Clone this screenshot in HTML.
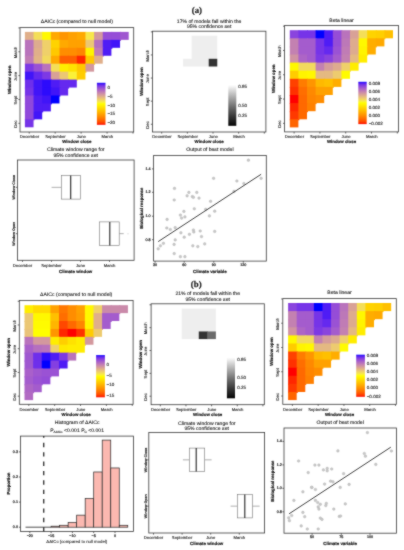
<!DOCTYPE html>
<html><head><meta charset="utf-8"><title>Figure</title>
<style>html,body{margin:0;padding:0;background:#fff;overflow:hidden;} svg{display:block;}</style></head>
<body><svg width="404" height="550" viewBox="0 0 404 550" font-family="Liberation Sans, Arial, sans-serif" text-rendering="geometricPrecision">
<rect x="0" y="0" width="404" height="550" fill="#fff"/>
<defs><filter id="soft" x="0" y="0" width="404" height="550" filterUnits="userSpaceOnUse" color-interpolation-filters="sRGB"><feConvolveMatrix order="3" kernelMatrix="1 2 1 2 16 2 1 2 1" divisor="28" edgeMode="duplicate"/></filter></defs>
<g filter="url(#soft)">
<rect x="0" y="0" width="404" height="550" fill="#fff"/>
<text x="196.90" y="10.10" font-size="8.8" text-anchor="middle" dominant-baseline="central" font-weight="bold" fill="#1a1a1a" stroke="#1a1a1a" stroke-width="0.2" font-family="Liberation Serif, serif">(a)</text>
<text x="76.85" y="21.50" font-size="5.1" text-anchor="middle" dominant-baseline="central" fill="#1a1a1a" stroke="#1a1a1a" stroke-width="0.1">&#916;AICc (compared to null model)</text>
<rect x="24.90" y="31.90" width="9.65" height="8.95" fill="#e0af8a"/>
<rect x="33.55" y="31.90" width="9.65" height="8.95" fill="#f4de58"/>
<rect x="42.20" y="31.90" width="9.65" height="8.95" fill="#fff800"/>
<rect x="50.85" y="31.90" width="9.65" height="8.95" fill="#ffa900"/>
<rect x="59.50" y="31.90" width="9.65" height="8.95" fill="#ff9500"/>
<rect x="68.15" y="31.90" width="9.65" height="8.95" fill="#ffa100"/>
<rect x="76.80" y="31.90" width="9.65" height="8.95" fill="#ffa900"/>
<rect x="85.45" y="31.90" width="9.65" height="8.95" fill="#f8e74a"/>
<rect x="94.10" y="31.90" width="9.65" height="8.95" fill="#d3989e"/>
<rect x="102.75" y="31.90" width="9.65" height="8.95" fill="#954dd7"/>
<rect x="111.40" y="31.90" width="9.65" height="8.95" fill="#954dd7"/>
<rect x="120.05" y="31.90" width="8.65" height="7.95" fill="#9f57d0"/>
<rect x="24.90" y="39.85" width="9.65" height="8.95" fill="#b973bc"/>
<rect x="33.55" y="39.85" width="9.65" height="8.95" fill="#ddab8f"/>
<rect x="42.20" y="39.85" width="9.65" height="8.95" fill="#efd06a"/>
<rect x="50.85" y="39.85" width="9.65" height="8.95" fill="#ffd300"/>
<rect x="59.50" y="39.85" width="9.65" height="8.95" fill="#ffa900"/>
<rect x="68.15" y="39.85" width="9.65" height="8.95" fill="#ffa100"/>
<rect x="76.80" y="39.85" width="9.65" height="8.95" fill="#ffa100"/>
<rect x="85.45" y="39.85" width="9.65" height="8.95" fill="#ebc774"/>
<rect x="94.10" y="39.85" width="9.65" height="8.95" fill="#b56fbf"/>
<rect x="102.75" y="39.85" width="9.65" height="8.95" fill="#4f1cf5"/>
<rect x="111.40" y="39.85" width="8.65" height="7.95" fill="#4115f8"/>
<rect x="24.90" y="47.80" width="9.65" height="8.95" fill="#b973bc"/>
<rect x="33.55" y="47.80" width="9.65" height="8.95" fill="#e0af8a"/>
<rect x="42.20" y="47.80" width="9.65" height="8.95" fill="#efd06a"/>
<rect x="50.85" y="47.80" width="9.65" height="8.95" fill="#ffc800"/>
<rect x="59.50" y="47.80" width="9.65" height="8.95" fill="#ff8d00"/>
<rect x="68.15" y="47.80" width="9.65" height="8.95" fill="#ff8d00"/>
<rect x="76.80" y="47.80" width="9.65" height="8.95" fill="#ff8500"/>
<rect x="85.45" y="47.80" width="9.65" height="8.95" fill="#fff400"/>
<rect x="94.10" y="47.80" width="9.65" height="8.95" fill="#c07cb5"/>
<rect x="102.75" y="47.80" width="8.65" height="7.95" fill="#4f1cf5"/>
<rect x="24.90" y="55.75" width="9.65" height="8.95" fill="#c07cb5"/>
<rect x="33.55" y="55.75" width="9.65" height="8.95" fill="#e2b486"/>
<rect x="42.20" y="55.75" width="9.65" height="8.95" fill="#f2d95e"/>
<rect x="50.85" y="55.75" width="9.65" height="8.95" fill="#ffa900"/>
<rect x="59.50" y="55.75" width="9.65" height="8.95" fill="#ff5f00"/>
<rect x="68.15" y="55.75" width="9.65" height="8.95" fill="#ff5f00"/>
<rect x="76.80" y="55.75" width="9.65" height="8.95" fill="#ff2700"/>
<rect x="85.45" y="55.75" width="9.65" height="8.95" fill="#ffc800"/>
<rect x="94.10" y="55.75" width="8.65" height="7.95" fill="#e0af8a"/>
<rect x="24.90" y="63.70" width="9.65" height="8.95" fill="#7d39e5"/>
<rect x="33.55" y="63.70" width="9.65" height="8.95" fill="#9a52d4"/>
<rect x="42.20" y="63.70" width="9.65" height="8.95" fill="#b973bc"/>
<rect x="50.85" y="63.70" width="9.65" height="8.95" fill="#f4de58"/>
<rect x="59.50" y="63.70" width="9.65" height="8.95" fill="#ffed00"/>
<rect x="68.15" y="63.70" width="9.65" height="8.95" fill="#ffe200"/>
<rect x="76.80" y="63.70" width="9.65" height="8.95" fill="#ffc800"/>
<rect x="85.45" y="63.70" width="8.65" height="7.95" fill="#d3989e"/>
<rect x="24.90" y="71.65" width="9.65" height="8.95" fill="#4115f8"/>
<rect x="33.55" y="71.65" width="9.65" height="8.95" fill="#6529ef"/>
<rect x="42.20" y="71.65" width="9.65" height="8.95" fill="#7d39e5"/>
<rect x="50.85" y="71.65" width="9.65" height="8.95" fill="#d8a197"/>
<rect x="59.50" y="71.65" width="9.65" height="8.95" fill="#ebc774"/>
<rect x="68.15" y="71.65" width="9.65" height="8.95" fill="#fbf139"/>
<rect x="76.80" y="71.65" width="8.65" height="7.95" fill="#ffcc00"/>
<rect x="24.90" y="79.60" width="9.65" height="8.95" fill="#6e2feb"/>
<rect x="33.55" y="79.60" width="9.65" height="8.95" fill="#4115f8"/>
<rect x="42.20" y="79.60" width="9.65" height="8.95" fill="#2d0bfc"/>
<rect x="50.85" y="79.60" width="9.65" height="8.95" fill="#4f1cf5"/>
<rect x="59.50" y="79.60" width="9.65" height="8.95" fill="#6529ef"/>
<rect x="68.15" y="79.60" width="8.65" height="7.95" fill="#6529ef"/>
<rect x="24.90" y="87.55" width="9.65" height="8.95" fill="#7634e8"/>
<rect x="33.55" y="87.55" width="9.65" height="8.95" fill="#4115f8"/>
<rect x="42.20" y="87.55" width="9.65" height="8.95" fill="#2d0bfc"/>
<rect x="50.85" y="87.55" width="9.65" height="8.95" fill="#4115f8"/>
<rect x="59.50" y="87.55" width="8.65" height="7.95" fill="#6529ef"/>
<rect x="24.90" y="95.50" width="9.65" height="8.95" fill="#9049db"/>
<rect x="33.55" y="95.50" width="9.65" height="8.95" fill="#4f1cf5"/>
<rect x="42.20" y="95.50" width="9.65" height="8.95" fill="#4115f8"/>
<rect x="50.85" y="95.50" width="8.65" height="7.95" fill="#0000ff"/>
<rect x="24.90" y="103.45" width="9.65" height="8.95" fill="#9049db"/>
<rect x="33.55" y="103.45" width="9.65" height="8.95" fill="#4f1cf5"/>
<rect x="42.20" y="103.45" width="8.65" height="7.95" fill="#4f1cf5"/>
<rect x="24.90" y="111.40" width="9.65" height="8.95" fill="#9049db"/>
<rect x="33.55" y="111.40" width="8.65" height="7.95" fill="#4115f8"/>
<rect x="24.90" y="119.35" width="8.65" height="7.95" fill="#7634e8"/>
<rect x="20.00" y="27.60" width="113.70" height="104.40" fill="none" stroke="#3a3a3a" stroke-width="0.8"/>
<line x1="29.22" y1="132.00" x2="29.22" y2="133.60" stroke="#3a3a3a" stroke-width="0.75"/>
<text x="29.52" y="136.20" font-size="4.2" text-anchor="middle" dominant-baseline="central" fill="#2a2a2a" stroke="#2a2a2a" stroke-width="0.12">December</text>
<line x1="55.17" y1="132.00" x2="55.17" y2="133.60" stroke="#3a3a3a" stroke-width="0.75"/>
<text x="55.47" y="136.20" font-size="4.2" text-anchor="middle" dominant-baseline="central" fill="#2a2a2a" stroke="#2a2a2a" stroke-width="0.12">September</text>
<line x1="81.12" y1="132.00" x2="81.12" y2="133.60" stroke="#3a3a3a" stroke-width="0.75"/>
<text x="81.42" y="136.20" font-size="4.2" text-anchor="middle" dominant-baseline="central" fill="#2a2a2a" stroke="#2a2a2a" stroke-width="0.12">June</text>
<line x1="107.07" y1="132.00" x2="107.07" y2="133.60" stroke="#3a3a3a" stroke-width="0.75"/>
<text x="107.37" y="136.20" font-size="4.2" text-anchor="middle" dominant-baseline="central" fill="#2a2a2a" stroke="#2a2a2a" stroke-width="0.12">March</text>
<line x1="133.03" y1="132.00" x2="133.03" y2="133.60" stroke="#3a3a3a" stroke-width="0.75"/>
<line x1="18.40" y1="123.32" x2="20.00" y2="123.32" stroke="#3a3a3a" stroke-width="0.75"/>
<text x="15.40" y="124.02" font-size="4.2" text-anchor="middle" dominant-baseline="central" fill="#2a2a2a" stroke="#2a2a2a" stroke-width="0.12" transform="rotate(-90 15.40 124.02)">Dec</text>
<line x1="18.40" y1="99.47" x2="20.00" y2="99.47" stroke="#3a3a3a" stroke-width="0.75"/>
<text x="15.40" y="100.17" font-size="4.2" text-anchor="middle" dominant-baseline="central" fill="#2a2a2a" stroke="#2a2a2a" stroke-width="0.12" transform="rotate(-90 15.40 100.17)">Sept</text>
<line x1="18.40" y1="75.62" x2="20.00" y2="75.62" stroke="#3a3a3a" stroke-width="0.75"/>
<text x="15.40" y="76.33" font-size="4.2" text-anchor="middle" dominant-baseline="central" fill="#2a2a2a" stroke="#2a2a2a" stroke-width="0.12" transform="rotate(-90 15.40 76.33)">June</text>
<line x1="18.40" y1="51.77" x2="20.00" y2="51.77" stroke="#3a3a3a" stroke-width="0.75"/>
<text x="15.40" y="52.48" font-size="4.2" text-anchor="middle" dominant-baseline="central" fill="#2a2a2a" stroke="#2a2a2a" stroke-width="0.12" transform="rotate(-90 15.40 52.48)">March</text>
<line x1="18.40" y1="27.92" x2="20.00" y2="27.92" stroke="#3a3a3a" stroke-width="0.75"/>
<text x="9.50" y="79.80" font-size="4.4" text-anchor="middle" dominant-baseline="central" font-weight="bold" fill="#1a1a1a" stroke="#1a1a1a" stroke-width="0.2" transform="rotate(-90 9.50 79.80)">Window open</text>
<text x="76.85" y="141.80" font-size="4.4" text-anchor="middle" dominant-baseline="central" font-weight="bold" fill="#1a1a1a" stroke="#1a1a1a" stroke-width="0.2">Window close</text>
<defs><linearGradient id="g1" x1="0" y1="0" x2="0" y2="1"><stop offset="0.000" stop-color="#0000ff"/><stop offset="0.025" stop-color="#4819f7"/><stop offset="0.050" stop-color="#6529ef"/><stop offset="0.075" stop-color="#7937e6"/><stop offset="0.100" stop-color="#8a44de"/><stop offset="0.125" stop-color="#9850d5"/><stop offset="0.150" stop-color="#a45ccd"/><stop offset="0.175" stop-color="#af68c4"/><stop offset="0.200" stop-color="#b973bc"/><stop offset="0.225" stop-color="#c27fb3"/><stop offset="0.250" stop-color="#ca8aaa"/><stop offset="0.275" stop-color="#d196a0"/><stop offset="0.300" stop-color="#d8a197"/><stop offset="0.325" stop-color="#dead8c"/><stop offset="0.350" stop-color="#e4b982"/><stop offset="0.375" stop-color="#eac476"/><stop offset="0.400" stop-color="#efd06a"/><stop offset="0.425" stop-color="#f3dc5b"/><stop offset="0.450" stop-color="#f8e74a"/><stop offset="0.475" stop-color="#fbf334"/><stop offset="0.500" stop-color="#ffff00"/><stop offset="0.525" stop-color="#fff600"/><stop offset="0.550" stop-color="#ffed00"/><stop offset="0.575" stop-color="#ffe400"/><stop offset="0.600" stop-color="#ffdb00"/><stop offset="0.625" stop-color="#ffd100"/><stop offset="0.650" stop-color="#ffc800"/><stop offset="0.675" stop-color="#ffbf00"/><stop offset="0.700" stop-color="#ffb500"/><stop offset="0.725" stop-color="#ffab00"/><stop offset="0.750" stop-color="#ffa100"/><stop offset="0.775" stop-color="#ff9700"/><stop offset="0.800" stop-color="#ff8d00"/><stop offset="0.825" stop-color="#ff8200"/><stop offset="0.850" stop-color="#ff7700"/><stop offset="0.875" stop-color="#ff6c00"/><stop offset="0.900" stop-color="#ff5f00"/><stop offset="0.925" stop-color="#ff5100"/><stop offset="0.950" stop-color="#ff4100"/><stop offset="0.975" stop-color="#ff2c00"/><stop offset="1.000" stop-color="#ff0000"/></linearGradient></defs>
<rect x="96.90" y="82.80" width="8.60" height="42.00" fill="url(#g1)"/>
<text x="107.40" y="87.10" font-size="4.55" text-anchor="start" dominant-baseline="central" fill="#2a2a2a" stroke="#2a2a2a" stroke-width="0.12">0</text>
<text x="107.40" y="96.30" font-size="4.55" text-anchor="start" dominant-baseline="central" fill="#2a2a2a" stroke="#2a2a2a" stroke-width="0.12">&#8722;5</text>
<text x="107.40" y="105.00" font-size="4.55" text-anchor="start" dominant-baseline="central" fill="#2a2a2a" stroke="#2a2a2a" stroke-width="0.12">&#8722;10</text>
<text x="107.40" y="113.70" font-size="4.55" text-anchor="start" dominant-baseline="central" fill="#2a2a2a" stroke="#2a2a2a" stroke-width="0.12">&#8722;15</text>
<text x="107.40" y="122.40" font-size="4.55" text-anchor="start" dominant-baseline="central" fill="#2a2a2a" stroke="#2a2a2a" stroke-width="0.12">&#8722;20</text>
<text x="209.15" y="21.90" font-size="5.1" text-anchor="middle" dominant-baseline="central" fill="#1a1a1a" stroke="#1a1a1a" stroke-width="0.1">17% of models fall within the</text>
<text x="209.15" y="27.20" font-size="5.1" text-anchor="middle" dominant-baseline="central" fill="#1a1a1a" stroke="#1a1a1a" stroke-width="0.1">95% confidence set</text>
<rect x="191.62" y="35.70" width="25.65" height="23.60" fill="#eeeeee"/>
<rect x="183.07" y="58.80" width="26.15" height="7.70" fill="#eeeeee"/>
<rect x="208.72" y="58.80" width="8.55" height="7.70" fill="#333333"/>
<rect x="152.40" y="31.20" width="113.50" height="100.80" fill="none" stroke="#3a3a3a" stroke-width="0.8"/>
<line x1="161.70" y1="132.00" x2="161.70" y2="133.60" stroke="#3a3a3a" stroke-width="0.75"/>
<text x="162.00" y="136.20" font-size="4.2" text-anchor="middle" dominant-baseline="central" fill="#2a2a2a" stroke="#2a2a2a" stroke-width="0.12">December</text>
<line x1="187.35" y1="132.00" x2="187.35" y2="133.60" stroke="#3a3a3a" stroke-width="0.75"/>
<text x="187.65" y="136.20" font-size="4.2" text-anchor="middle" dominant-baseline="central" fill="#2a2a2a" stroke="#2a2a2a" stroke-width="0.12">September</text>
<line x1="213.00" y1="132.00" x2="213.00" y2="133.60" stroke="#3a3a3a" stroke-width="0.75"/>
<text x="213.30" y="136.20" font-size="4.2" text-anchor="middle" dominant-baseline="central" fill="#2a2a2a" stroke="#2a2a2a" stroke-width="0.12">June</text>
<line x1="238.65" y1="132.00" x2="238.65" y2="133.60" stroke="#3a3a3a" stroke-width="0.75"/>
<text x="238.95" y="136.20" font-size="4.2" text-anchor="middle" dominant-baseline="central" fill="#2a2a2a" stroke="#2a2a2a" stroke-width="0.12">March</text>
<line x1="264.30" y1="132.00" x2="264.30" y2="133.60" stroke="#3a3a3a" stroke-width="0.75"/>
<line x1="150.80" y1="124.25" x2="152.40" y2="124.25" stroke="#3a3a3a" stroke-width="0.75"/>
<text x="147.30" y="124.95" font-size="4.2" text-anchor="middle" dominant-baseline="central" fill="#2a2a2a" stroke="#2a2a2a" stroke-width="0.12" transform="rotate(-90 147.30 124.95)">Dec</text>
<line x1="150.80" y1="101.15" x2="152.40" y2="101.15" stroke="#3a3a3a" stroke-width="0.75"/>
<text x="147.30" y="101.85" font-size="4.2" text-anchor="middle" dominant-baseline="central" fill="#2a2a2a" stroke="#2a2a2a" stroke-width="0.12" transform="rotate(-90 147.30 101.85)">Sept</text>
<line x1="150.80" y1="78.05" x2="152.40" y2="78.05" stroke="#3a3a3a" stroke-width="0.75"/>
<text x="147.30" y="78.75" font-size="4.2" text-anchor="middle" dominant-baseline="central" fill="#2a2a2a" stroke="#2a2a2a" stroke-width="0.12" transform="rotate(-90 147.30 78.75)">June</text>
<line x1="150.80" y1="54.95" x2="152.40" y2="54.95" stroke="#3a3a3a" stroke-width="0.75"/>
<text x="147.30" y="55.65" font-size="4.2" text-anchor="middle" dominant-baseline="central" fill="#2a2a2a" stroke="#2a2a2a" stroke-width="0.12" transform="rotate(-90 147.30 55.65)">March</text>
<line x1="150.80" y1="31.85" x2="152.40" y2="31.85" stroke="#3a3a3a" stroke-width="0.75"/>
<text x="141.20" y="81.60" font-size="4.4" text-anchor="middle" dominant-baseline="central" font-weight="bold" fill="#1a1a1a" stroke="#1a1a1a" stroke-width="0.2" transform="rotate(-90 141.20 81.60)">Window open</text>
<text x="209.15" y="141.80" font-size="4.4" text-anchor="middle" dominant-baseline="central" font-weight="bold" fill="#1a1a1a" stroke="#1a1a1a" stroke-width="0.2">Window close</text>
<defs><linearGradient id="g2" x1="0" y1="0" x2="0" y2="1"><stop offset="0.000" stop-color="#ffffff"/><stop offset="0.050" stop-color="#f1f1f1"/><stop offset="0.100" stop-color="#e2e2e2"/><stop offset="0.150" stop-color="#d4d4d4"/><stop offset="0.200" stop-color="#c6c6c6"/><stop offset="0.250" stop-color="#b9b9b9"/><stop offset="0.300" stop-color="#ababab"/><stop offset="0.350" stop-color="#9e9e9e"/><stop offset="0.400" stop-color="#919191"/><stop offset="0.450" stop-color="#848484"/><stop offset="0.500" stop-color="#777777"/><stop offset="0.550" stop-color="#6a6a6a"/><stop offset="0.600" stop-color="#5e5e5e"/><stop offset="0.650" stop-color="#525252"/><stop offset="0.700" stop-color="#474747"/><stop offset="0.750" stop-color="#3b3b3b"/><stop offset="0.800" stop-color="#303030"/><stop offset="0.850" stop-color="#262626"/><stop offset="0.900" stop-color="#1b1b1b"/><stop offset="0.950" stop-color="#111111"/><stop offset="1.000" stop-color="#000000"/></linearGradient></defs>
<rect x="228.30" y="85.00" width="8.00" height="40.80" fill="url(#g2)"/>
<text x="238.30" y="86.80" font-size="4.55" text-anchor="start" dominant-baseline="central" fill="#2a2a2a" stroke="#2a2a2a" stroke-width="0.12">0.95</text>
<text x="238.30" y="105.10" font-size="4.55" text-anchor="start" dominant-baseline="central" fill="#2a2a2a" stroke="#2a2a2a" stroke-width="0.12">0.50</text>
<text x="238.30" y="115.00" font-size="4.55" text-anchor="start" dominant-baseline="central" fill="#2a2a2a" stroke="#2a2a2a" stroke-width="0.12">0.25</text>
<text x="341.50" y="21.30" font-size="5.1" text-anchor="middle" dominant-baseline="central" fill="#1a1a1a" stroke="#1a1a1a" stroke-width="0.1">Beta linear</text>
<rect x="289.80" y="30.20" width="9.60" height="9.10" fill="#8a44de"/>
<rect x="298.40" y="30.20" width="9.60" height="9.10" fill="#7634e8"/>
<rect x="307.00" y="30.20" width="9.60" height="9.10" fill="#7634e8"/>
<rect x="315.60" y="30.20" width="9.60" height="9.10" fill="#0000ff"/>
<rect x="324.20" y="30.20" width="9.60" height="9.10" fill="#4f1cf5"/>
<rect x="332.80" y="30.20" width="9.60" height="9.10" fill="#954dd7"/>
<rect x="341.40" y="30.20" width="9.60" height="9.10" fill="#b973bc"/>
<rect x="350.00" y="30.20" width="9.60" height="9.10" fill="#d8a197"/>
<rect x="358.60" y="30.20" width="9.60" height="9.10" fill="#f4de58"/>
<rect x="367.20" y="30.20" width="9.60" height="9.10" fill="#ffd300"/>
<rect x="375.80" y="30.20" width="9.60" height="9.10" fill="#ffcf00"/>
<rect x="384.40" y="30.20" width="8.60" height="8.10" fill="#ffc000"/>
<rect x="289.80" y="38.30" width="9.60" height="9.10" fill="#c381b1"/>
<rect x="298.40" y="38.30" width="9.60" height="9.10" fill="#a45ccd"/>
<rect x="307.00" y="38.30" width="9.60" height="9.10" fill="#a45ccd"/>
<rect x="315.60" y="38.30" width="9.60" height="9.10" fill="#7634e8"/>
<rect x="324.20" y="38.30" width="9.60" height="9.10" fill="#4f1cf5"/>
<rect x="332.80" y="38.30" width="9.60" height="9.10" fill="#954dd7"/>
<rect x="341.40" y="38.30" width="9.60" height="9.10" fill="#bc78b8"/>
<rect x="350.00" y="38.30" width="9.60" height="9.10" fill="#ddab8f"/>
<rect x="358.60" y="38.30" width="9.60" height="9.10" fill="#fff800"/>
<rect x="367.20" y="38.30" width="9.60" height="9.10" fill="#ffad00"/>
<rect x="375.80" y="38.30" width="8.60" height="8.10" fill="#ffa900"/>
<rect x="289.80" y="46.40" width="9.60" height="9.10" fill="#c381b1"/>
<rect x="298.40" y="46.40" width="9.60" height="9.10" fill="#a45ccd"/>
<rect x="307.00" y="46.40" width="9.60" height="9.10" fill="#a45ccd"/>
<rect x="315.60" y="46.40" width="9.60" height="9.10" fill="#7634e8"/>
<rect x="324.20" y="46.40" width="9.60" height="9.10" fill="#6529ef"/>
<rect x="332.80" y="46.40" width="9.60" height="9.10" fill="#9a52d4"/>
<rect x="341.40" y="46.40" width="9.60" height="9.10" fill="#c07cb5"/>
<rect x="350.00" y="46.40" width="9.60" height="9.10" fill="#ddab8f"/>
<rect x="358.60" y="46.40" width="9.60" height="9.10" fill="#fff400"/>
<rect x="367.20" y="46.40" width="8.60" height="8.10" fill="#ffad00"/>
<rect x="289.80" y="54.50" width="9.60" height="9.10" fill="#d094a2"/>
<rect x="298.40" y="54.50" width="9.60" height="9.10" fill="#ad65c6"/>
<rect x="307.00" y="54.50" width="9.60" height="9.10" fill="#a45ccd"/>
<rect x="315.60" y="54.50" width="9.60" height="9.10" fill="#7d39e5"/>
<rect x="324.20" y="54.50" width="9.60" height="9.10" fill="#8a44de"/>
<rect x="332.80" y="54.50" width="9.60" height="9.10" fill="#a45ccd"/>
<rect x="341.40" y="54.50" width="9.60" height="9.10" fill="#c381b1"/>
<rect x="350.00" y="54.50" width="9.60" height="9.10" fill="#e4b982"/>
<rect x="358.60" y="54.50" width="8.60" height="8.10" fill="#ffed00"/>
<rect x="289.80" y="62.60" width="9.60" height="9.10" fill="#fff800"/>
<rect x="298.40" y="62.60" width="9.60" height="9.10" fill="#f2d95e"/>
<rect x="307.00" y="62.60" width="9.60" height="9.10" fill="#f2d95e"/>
<rect x="315.60" y="62.60" width="9.60" height="9.10" fill="#c381b1"/>
<rect x="324.20" y="62.60" width="9.60" height="9.10" fill="#d59d9b"/>
<rect x="332.80" y="62.60" width="9.60" height="9.10" fill="#ddab8f"/>
<rect x="341.40" y="62.60" width="9.60" height="9.10" fill="#efd06a"/>
<rect x="350.00" y="62.60" width="8.60" height="8.10" fill="#ffed00"/>
<rect x="289.80" y="70.70" width="9.60" height="9.10" fill="#ffcc00"/>
<rect x="298.40" y="70.70" width="9.60" height="9.10" fill="#fff400"/>
<rect x="307.00" y="70.70" width="9.60" height="9.10" fill="#fff800"/>
<rect x="315.60" y="70.70" width="9.60" height="9.10" fill="#e4b982"/>
<rect x="324.20" y="70.70" width="9.60" height="9.10" fill="#e4b982"/>
<rect x="332.80" y="70.70" width="9.60" height="9.10" fill="#edcb6f"/>
<rect x="341.40" y="70.70" width="8.60" height="8.10" fill="#fffb00"/>
<rect x="289.80" y="78.80" width="9.60" height="9.10" fill="#ff4100"/>
<rect x="298.40" y="78.80" width="9.60" height="9.10" fill="#ff7c00"/>
<rect x="307.00" y="78.80" width="9.60" height="9.10" fill="#ff9500"/>
<rect x="315.60" y="78.80" width="9.60" height="9.10" fill="#ffb900"/>
<rect x="324.20" y="78.80" width="9.60" height="9.10" fill="#ffc000"/>
<rect x="332.80" y="78.80" width="8.60" height="8.10" fill="#ffad00"/>
<rect x="289.80" y="86.90" width="9.60" height="9.10" fill="#ff3100"/>
<rect x="298.40" y="86.90" width="9.60" height="9.10" fill="#ff6e00"/>
<rect x="307.00" y="86.90" width="9.60" height="9.10" fill="#ff8900"/>
<rect x="315.60" y="86.90" width="9.60" height="9.10" fill="#ffa100"/>
<rect x="324.20" y="86.90" width="8.60" height="8.10" fill="#ffa100"/>
<rect x="289.80" y="95.00" width="9.60" height="9.10" fill="#ff0000"/>
<rect x="298.40" y="95.00" width="9.60" height="9.10" fill="#ff6900"/>
<rect x="307.00" y="95.00" width="9.60" height="9.10" fill="#ff8500"/>
<rect x="315.60" y="95.00" width="8.60" height="8.10" fill="#ff8d00"/>
<rect x="289.80" y="103.10" width="9.60" height="9.10" fill="#ff2700"/>
<rect x="298.40" y="103.10" width="9.60" height="9.10" fill="#ff6900"/>
<rect x="307.00" y="103.10" width="8.60" height="8.10" fill="#ff8000"/>
<rect x="289.80" y="111.20" width="9.60" height="9.10" fill="#ff3900"/>
<rect x="298.40" y="111.20" width="8.60" height="8.10" fill="#ff6900"/>
<rect x="289.80" y="119.30" width="8.60" height="8.10" fill="#ff6400"/>
<rect x="284.60" y="25.50" width="113.80" height="106.40" fill="none" stroke="#3a3a3a" stroke-width="0.8"/>
<line x1="294.10" y1="131.90" x2="294.10" y2="133.50" stroke="#3a3a3a" stroke-width="0.75"/>
<text x="294.40" y="136.20" font-size="4.2" text-anchor="middle" dominant-baseline="central" fill="#2a2a2a" stroke="#2a2a2a" stroke-width="0.12">December</text>
<line x1="319.90" y1="131.90" x2="319.90" y2="133.50" stroke="#3a3a3a" stroke-width="0.75"/>
<text x="320.20" y="136.20" font-size="4.2" text-anchor="middle" dominant-baseline="central" fill="#2a2a2a" stroke="#2a2a2a" stroke-width="0.12">September</text>
<line x1="345.70" y1="131.90" x2="345.70" y2="133.50" stroke="#3a3a3a" stroke-width="0.75"/>
<text x="346.00" y="136.20" font-size="4.2" text-anchor="middle" dominant-baseline="central" fill="#2a2a2a" stroke="#2a2a2a" stroke-width="0.12">June</text>
<line x1="371.50" y1="131.90" x2="371.50" y2="133.50" stroke="#3a3a3a" stroke-width="0.75"/>
<text x="371.80" y="136.20" font-size="4.2" text-anchor="middle" dominant-baseline="central" fill="#2a2a2a" stroke="#2a2a2a" stroke-width="0.12">March</text>
<line x1="397.30" y1="131.90" x2="397.30" y2="133.50" stroke="#3a3a3a" stroke-width="0.75"/>
<line x1="283.00" y1="123.35" x2="284.60" y2="123.35" stroke="#3a3a3a" stroke-width="0.75"/>
<text x="279.70" y="124.05" font-size="4.2" text-anchor="middle" dominant-baseline="central" fill="#2a2a2a" stroke="#2a2a2a" stroke-width="0.12" transform="rotate(-90 279.70 124.05)">Dec</text>
<line x1="283.00" y1="99.05" x2="284.60" y2="99.05" stroke="#3a3a3a" stroke-width="0.75"/>
<text x="279.70" y="99.75" font-size="4.2" text-anchor="middle" dominant-baseline="central" fill="#2a2a2a" stroke="#2a2a2a" stroke-width="0.12" transform="rotate(-90 279.70 99.75)">Sept</text>
<line x1="283.00" y1="74.75" x2="284.60" y2="74.75" stroke="#3a3a3a" stroke-width="0.75"/>
<text x="279.70" y="75.45" font-size="4.2" text-anchor="middle" dominant-baseline="central" fill="#2a2a2a" stroke="#2a2a2a" stroke-width="0.12" transform="rotate(-90 279.70 75.45)">June</text>
<line x1="283.00" y1="50.45" x2="284.60" y2="50.45" stroke="#3a3a3a" stroke-width="0.75"/>
<text x="279.70" y="51.15" font-size="4.2" text-anchor="middle" dominant-baseline="central" fill="#2a2a2a" stroke="#2a2a2a" stroke-width="0.12" transform="rotate(-90 279.70 51.15)">March</text>
<line x1="283.00" y1="26.15" x2="284.60" y2="26.15" stroke="#3a3a3a" stroke-width="0.75"/>
<text x="273.60" y="78.70" font-size="4.4" text-anchor="middle" dominant-baseline="central" font-weight="bold" fill="#1a1a1a" stroke="#1a1a1a" stroke-width="0.2" transform="rotate(-90 273.60 78.70)">Window open</text>
<text x="341.50" y="141.80" font-size="4.4" text-anchor="middle" dominant-baseline="central" font-weight="bold" fill="#1a1a1a" stroke="#1a1a1a" stroke-width="0.2">Window close</text>
<defs><linearGradient id="g3" x1="0" y1="0" x2="0" y2="1"><stop offset="0.000" stop-color="#0000ff"/><stop offset="0.025" stop-color="#4819f7"/><stop offset="0.050" stop-color="#6529ef"/><stop offset="0.075" stop-color="#7937e6"/><stop offset="0.100" stop-color="#8a44de"/><stop offset="0.125" stop-color="#9850d5"/><stop offset="0.150" stop-color="#a45ccd"/><stop offset="0.175" stop-color="#af68c4"/><stop offset="0.200" stop-color="#b973bc"/><stop offset="0.225" stop-color="#c27fb3"/><stop offset="0.250" stop-color="#ca8aaa"/><stop offset="0.275" stop-color="#d196a0"/><stop offset="0.300" stop-color="#d8a197"/><stop offset="0.325" stop-color="#dead8c"/><stop offset="0.350" stop-color="#e4b982"/><stop offset="0.375" stop-color="#eac476"/><stop offset="0.400" stop-color="#efd06a"/><stop offset="0.425" stop-color="#f3dc5b"/><stop offset="0.450" stop-color="#f8e74a"/><stop offset="0.475" stop-color="#fbf334"/><stop offset="0.500" stop-color="#ffff00"/><stop offset="0.525" stop-color="#fff600"/><stop offset="0.550" stop-color="#ffed00"/><stop offset="0.575" stop-color="#ffe400"/><stop offset="0.600" stop-color="#ffdb00"/><stop offset="0.625" stop-color="#ffd100"/><stop offset="0.650" stop-color="#ffc800"/><stop offset="0.675" stop-color="#ffbf00"/><stop offset="0.700" stop-color="#ffb500"/><stop offset="0.725" stop-color="#ffab00"/><stop offset="0.750" stop-color="#ffa100"/><stop offset="0.775" stop-color="#ff9700"/><stop offset="0.800" stop-color="#ff8d00"/><stop offset="0.825" stop-color="#ff8200"/><stop offset="0.850" stop-color="#ff7700"/><stop offset="0.875" stop-color="#ff6c00"/><stop offset="0.900" stop-color="#ff5f00"/><stop offset="0.925" stop-color="#ff5100"/><stop offset="0.950" stop-color="#ff4100"/><stop offset="0.975" stop-color="#ff2c00"/><stop offset="1.000" stop-color="#ff0000"/></linearGradient></defs>
<rect x="358.30" y="81.80" width="8.40" height="42.30" fill="url(#g3)"/>
<text x="368.70" y="83.40" font-size="4.55" text-anchor="start" dominant-baseline="central" fill="#2a2a2a" stroke="#2a2a2a" stroke-width="0.12">0.008</text>
<text x="368.70" y="91.30" font-size="4.55" text-anchor="start" dominant-baseline="central" fill="#2a2a2a" stroke="#2a2a2a" stroke-width="0.12">0.006</text>
<text x="368.70" y="99.20" font-size="4.55" text-anchor="start" dominant-baseline="central" fill="#2a2a2a" stroke="#2a2a2a" stroke-width="0.12">0.004</text>
<text x="368.70" y="107.20" font-size="4.55" text-anchor="start" dominant-baseline="central" fill="#2a2a2a" stroke="#2a2a2a" stroke-width="0.12">0.002</text>
<text x="368.70" y="115.20" font-size="4.55" text-anchor="start" dominant-baseline="central" fill="#2a2a2a" stroke="#2a2a2a" stroke-width="0.12">0.000</text>
<text x="368.70" y="123.10" font-size="4.55" text-anchor="start" dominant-baseline="central" fill="#2a2a2a" stroke="#2a2a2a" stroke-width="0.12">&#8722;0.002</text>
<text x="75.70" y="150.30" font-size="5.1" text-anchor="middle" dominant-baseline="central" fill="#1a1a1a" stroke="#1a1a1a" stroke-width="0.1">Climate window range for</text>
<text x="75.70" y="155.80" font-size="5.1" text-anchor="middle" dominant-baseline="central" fill="#1a1a1a" stroke="#1a1a1a" stroke-width="0.1">95% confidence set</text>
<rect x="17.40" y="160.00" width="116.70" height="100.30" fill="none" stroke="#3a3a3a" stroke-width="0.8"/>
<line x1="51.60" y1="187.35" x2="61.30" y2="187.35" stroke="#777" stroke-width="0.6"/>
<rect x="61.30" y="175.60" width="19.00" height="23.50" fill="#fff" stroke="#777" stroke-width="0.6"/>
<line x1="70.70" y1="175.60" x2="70.70" y2="199.10" stroke="#222" stroke-width="1.1"/>
<line x1="119.20" y1="233.65" x2="123.70" y2="233.65" stroke="#777" stroke-width="0.6"/>
<rect x="99.40" y="221.90" width="19.80" height="23.50" fill="#fff" stroke="#777" stroke-width="0.6"/>
<line x1="109.80" y1="221.90" x2="109.80" y2="245.40" stroke="#222" stroke-width="1.1"/>
<circle cx="128.0" cy="233.7" r="0.5" fill="#bbb"/>
<line x1="22.50" y1="260.30" x2="22.50" y2="261.90" stroke="#3a3a3a" stroke-width="0.75"/>
<text x="22.50" y="265.60" font-size="4.2" text-anchor="middle" dominant-baseline="central" fill="#2a2a2a" stroke="#2a2a2a" stroke-width="0.12">December</text>
<line x1="51.50" y1="260.30" x2="51.50" y2="261.90" stroke="#3a3a3a" stroke-width="0.75"/>
<text x="51.50" y="265.60" font-size="4.2" text-anchor="middle" dominant-baseline="central" fill="#2a2a2a" stroke="#2a2a2a" stroke-width="0.12">September</text>
<line x1="80.50" y1="260.30" x2="80.50" y2="261.90" stroke="#3a3a3a" stroke-width="0.75"/>
<text x="80.50" y="265.60" font-size="4.2" text-anchor="middle" dominant-baseline="central" fill="#2a2a2a" stroke="#2a2a2a" stroke-width="0.12">June</text>
<line x1="109.50" y1="260.30" x2="109.50" y2="261.90" stroke="#3a3a3a" stroke-width="0.75"/>
<text x="109.50" y="265.60" font-size="4.2" text-anchor="middle" dominant-baseline="central" fill="#2a2a2a" stroke="#2a2a2a" stroke-width="0.12">March</text>
<line x1="15.80" y1="187.30" x2="17.40" y2="187.30" stroke="#3a3a3a" stroke-width="0.75"/>
<text x="14.30" y="187.30" font-size="3.6" text-anchor="middle" dominant-baseline="central" font-weight="bold" fill="#2a2a2a" stroke="#2a2a2a" stroke-width="0.2" transform="rotate(-90 14.30 187.30)">Window Close</text>
<line x1="15.80" y1="233.70" x2="17.40" y2="233.70" stroke="#3a3a3a" stroke-width="0.75"/>
<text x="14.30" y="233.70" font-size="3.6" text-anchor="middle" dominant-baseline="central" font-weight="bold" fill="#2a2a2a" stroke="#2a2a2a" stroke-width="0.2" transform="rotate(-90 14.30 233.70)">Window Open</text>
<text x="75.70" y="271.50" font-size="4.4" text-anchor="middle" dominant-baseline="central" font-weight="bold" fill="#1a1a1a" stroke="#1a1a1a" stroke-width="0.2">Climate window</text>
<text x="209.95" y="149.90" font-size="5.1" text-anchor="middle" dominant-baseline="central" fill="#1a1a1a" stroke="#1a1a1a" stroke-width="0.1">Output of best model</text>
<rect x="153.60" y="155.40" width="112.70" height="105.70" fill="none" stroke="#3a3a3a" stroke-width="0.8"/>
<circle cx="174.5" cy="188.4" r="1.35" fill="#c8c8c8" stroke="#b0b0b0" stroke-width="0.35"/>
<circle cx="174.2" cy="200.0" r="1.35" fill="#c8c8c8" stroke="#b0b0b0" stroke-width="0.35"/>
<circle cx="188.9" cy="192.4" r="1.35" fill="#c8c8c8" stroke="#b0b0b0" stroke-width="0.35"/>
<circle cx="187.1" cy="195.8" r="1.35" fill="#c8c8c8" stroke="#b0b0b0" stroke-width="0.35"/>
<circle cx="192.3" cy="196.6" r="1.35" fill="#c8c8c8" stroke="#b0b0b0" stroke-width="0.35"/>
<circle cx="193.4" cy="197.3" r="1.35" fill="#c8c8c8" stroke="#b0b0b0" stroke-width="0.35"/>
<circle cx="196.8" cy="192.4" r="1.35" fill="#c8c8c8" stroke="#b0b0b0" stroke-width="0.35"/>
<circle cx="199.0" cy="198.1" r="1.35" fill="#c8c8c8" stroke="#b0b0b0" stroke-width="0.35"/>
<circle cx="194.3" cy="208.8" r="1.35" fill="#c8c8c8" stroke="#b0b0b0" stroke-width="0.35"/>
<circle cx="183.9" cy="211.4" r="1.35" fill="#c8c8c8" stroke="#b0b0b0" stroke-width="0.35"/>
<circle cx="180.4" cy="215.1" r="1.35" fill="#c8c8c8" stroke="#b0b0b0" stroke-width="0.35"/>
<circle cx="181.6" cy="218.1" r="1.35" fill="#c8c8c8" stroke="#b0b0b0" stroke-width="0.35"/>
<circle cx="184.9" cy="216.9" r="1.35" fill="#c8c8c8" stroke="#b0b0b0" stroke-width="0.35"/>
<circle cx="167.1" cy="219.4" r="1.35" fill="#c8c8c8" stroke="#b0b0b0" stroke-width="0.35"/>
<circle cx="166.8" cy="228.0" r="1.35" fill="#c8c8c8" stroke="#b0b0b0" stroke-width="0.35"/>
<circle cx="170.3" cy="229.5" r="1.35" fill="#c8c8c8" stroke="#b0b0b0" stroke-width="0.35"/>
<circle cx="175.2" cy="227.7" r="1.35" fill="#c8c8c8" stroke="#b0b0b0" stroke-width="0.35"/>
<circle cx="180.9" cy="232.8" r="1.35" fill="#c8c8c8" stroke="#b0b0b0" stroke-width="0.35"/>
<circle cx="184.2" cy="237.2" r="1.35" fill="#c8c8c8" stroke="#b0b0b0" stroke-width="0.35"/>
<circle cx="189.4" cy="234.3" r="1.35" fill="#c8c8c8" stroke="#b0b0b0" stroke-width="0.35"/>
<circle cx="193.4" cy="230.0" r="1.35" fill="#c8c8c8" stroke="#b0b0b0" stroke-width="0.35"/>
<circle cx="193.8" cy="232.0" r="1.35" fill="#c8c8c8" stroke="#b0b0b0" stroke-width="0.35"/>
<circle cx="200.2" cy="231.0" r="1.35" fill="#c8c8c8" stroke="#b0b0b0" stroke-width="0.35"/>
<circle cx="201.5" cy="236.6" r="1.35" fill="#c8c8c8" stroke="#b0b0b0" stroke-width="0.35"/>
<circle cx="175.2" cy="239.9" r="1.35" fill="#c8c8c8" stroke="#b0b0b0" stroke-width="0.35"/>
<circle cx="174.1" cy="244.4" r="1.35" fill="#c8c8c8" stroke="#b0b0b0" stroke-width="0.35"/>
<circle cx="163.4" cy="243.3" r="1.35" fill="#c8c8c8" stroke="#b0b0b0" stroke-width="0.35"/>
<circle cx="160.4" cy="245.8" r="1.35" fill="#c8c8c8" stroke="#b0b0b0" stroke-width="0.35"/>
<circle cx="158.2" cy="248.8" r="1.35" fill="#c8c8c8" stroke="#b0b0b0" stroke-width="0.35"/>
<circle cx="192.8" cy="245.8" r="1.35" fill="#c8c8c8" stroke="#b0b0b0" stroke-width="0.35"/>
<circle cx="197.8" cy="246.6" r="1.35" fill="#c8c8c8" stroke="#b0b0b0" stroke-width="0.35"/>
<circle cx="204.7" cy="243.9" r="1.35" fill="#c8c8c8" stroke="#b0b0b0" stroke-width="0.35"/>
<circle cx="174.2" cy="253.6" r="1.35" fill="#c8c8c8" stroke="#b0b0b0" stroke-width="0.35"/>
<circle cx="180.4" cy="256.7" r="1.35" fill="#c8c8c8" stroke="#b0b0b0" stroke-width="0.35"/>
<circle cx="184.9" cy="256.7" r="1.35" fill="#c8c8c8" stroke="#b0b0b0" stroke-width="0.35"/>
<circle cx="205.7" cy="209.3" r="1.35" fill="#c8c8c8" stroke="#b0b0b0" stroke-width="0.35"/>
<circle cx="209.4" cy="215.9" r="1.35" fill="#c8c8c8" stroke="#b0b0b0" stroke-width="0.35"/>
<circle cx="248.4" cy="160.2" r="1.35" fill="#c8c8c8" stroke="#b0b0b0" stroke-width="0.35"/>
<circle cx="213.6" cy="178.3" r="1.35" fill="#c8c8c8" stroke="#b0b0b0" stroke-width="0.35"/>
<circle cx="236.9" cy="181.0" r="1.35" fill="#c8c8c8" stroke="#b0b0b0" stroke-width="0.35"/>
<circle cx="243.9" cy="183.5" r="1.35" fill="#c8c8c8" stroke="#b0b0b0" stroke-width="0.35"/>
<circle cx="261.1" cy="178.3" r="1.35" fill="#c8c8c8" stroke="#b0b0b0" stroke-width="0.35"/>
<circle cx="234.0" cy="191.4" r="1.35" fill="#c8c8c8" stroke="#b0b0b0" stroke-width="0.35"/>
<circle cx="210.6" cy="201.3" r="1.35" fill="#c8c8c8" stroke="#b0b0b0" stroke-width="0.35"/>
<circle cx="214.7" cy="211.2" r="1.35" fill="#c8c8c8" stroke="#b0b0b0" stroke-width="0.35"/>
<circle cx="214.7" cy="231.4" r="1.35" fill="#c8c8c8" stroke="#b0b0b0" stroke-width="0.35"/>
<line x1="158.20" y1="241.60" x2="261.10" y2="174.30" stroke="#2a2a2a" stroke-width="0.9"/>
<line x1="152.00" y1="168.90" x2="153.60" y2="168.90" stroke="#3a3a3a" stroke-width="0.75"/>
<text x="148.00" y="168.90" font-size="3.7" text-anchor="middle" dominant-baseline="central" fill="#2a2a2a" stroke="#2a2a2a" stroke-width="0.22">1.4</text>
<line x1="152.00" y1="192.30" x2="153.60" y2="192.30" stroke="#3a3a3a" stroke-width="0.75"/>
<text x="148.00" y="192.30" font-size="3.7" text-anchor="middle" dominant-baseline="central" fill="#2a2a2a" stroke="#2a2a2a" stroke-width="0.22">1.2</text>
<line x1="152.00" y1="216.20" x2="153.60" y2="216.20" stroke="#3a3a3a" stroke-width="0.75"/>
<text x="148.00" y="216.20" font-size="3.7" text-anchor="middle" dominant-baseline="central" fill="#2a2a2a" stroke="#2a2a2a" stroke-width="0.22">1.0</text>
<line x1="152.00" y1="239.70" x2="153.60" y2="239.70" stroke="#3a3a3a" stroke-width="0.75"/>
<text x="148.00" y="239.70" font-size="3.7" text-anchor="middle" dominant-baseline="central" fill="#2a2a2a" stroke="#2a2a2a" stroke-width="0.22">0.8</text>
<line x1="155.10" y1="261.10" x2="155.10" y2="262.70" stroke="#3a3a3a" stroke-width="0.75"/>
<text x="155.10" y="265.10" font-size="3.7" text-anchor="middle" dominant-baseline="central" fill="#2a2a2a" stroke="#2a2a2a" stroke-width="0.22">30</text>
<line x1="184.20" y1="261.10" x2="184.20" y2="262.70" stroke="#3a3a3a" stroke-width="0.75"/>
<text x="184.20" y="265.10" font-size="3.7" text-anchor="middle" dominant-baseline="central" fill="#2a2a2a" stroke="#2a2a2a" stroke-width="0.22">60</text>
<line x1="213.80" y1="261.10" x2="213.80" y2="262.70" stroke="#3a3a3a" stroke-width="0.75"/>
<text x="213.80" y="265.10" font-size="3.7" text-anchor="middle" dominant-baseline="central" fill="#2a2a2a" stroke="#2a2a2a" stroke-width="0.22">90</text>
<line x1="243.30" y1="261.10" x2="243.30" y2="262.70" stroke="#3a3a3a" stroke-width="0.75"/>
<text x="243.30" y="265.10" font-size="3.7" text-anchor="middle" dominant-baseline="central" fill="#2a2a2a" stroke="#2a2a2a" stroke-width="0.22">120</text>
<text x="141.40" y="208.20" font-size="4.35" text-anchor="middle" dominant-baseline="central" font-weight="bold" fill="#1a1a1a" stroke="#1a1a1a" stroke-width="0.2" transform="rotate(-90 141.40 208.20)">Biological response</text>
<text x="209.95" y="271.00" font-size="4.4" text-anchor="middle" dominant-baseline="central" font-weight="bold" fill="#1a1a1a" stroke="#1a1a1a" stroke-width="0.2">Climate variable</text>
<text x="196.20" y="283.60" font-size="8.8" text-anchor="middle" dominant-baseline="central" font-weight="bold" fill="#1a1a1a" stroke="#1a1a1a" stroke-width="0.2" font-family="Liberation Serif, serif">(b)</text>
<text x="76.20" y="294.60" font-size="5.1" text-anchor="middle" dominant-baseline="central" fill="#1a1a1a" stroke="#1a1a1a" stroke-width="0.1">&#916;AICc (compared to null model)</text>
<rect x="24.50" y="305.20" width="9.62" height="8.91" fill="#ffed00"/>
<rect x="33.12" y="305.20" width="9.62" height="8.91" fill="#ffdb00"/>
<rect x="41.74" y="305.20" width="9.62" height="8.91" fill="#ffdb00"/>
<rect x="50.36" y="305.20" width="9.62" height="8.91" fill="#ffa100"/>
<rect x="58.98" y="305.20" width="9.62" height="8.91" fill="#ff7700"/>
<rect x="67.60" y="305.20" width="9.62" height="8.91" fill="#ff8d00"/>
<rect x="76.22" y="305.20" width="9.62" height="8.91" fill="#ffa100"/>
<rect x="84.84" y="305.20" width="9.62" height="8.91" fill="#fff800"/>
<rect x="93.46" y="305.20" width="9.62" height="8.91" fill="#efd06a"/>
<rect x="102.08" y="305.20" width="9.62" height="8.91" fill="#ca8aaa"/>
<rect x="110.70" y="305.20" width="9.62" height="8.91" fill="#ca8aaa"/>
<rect x="119.32" y="305.20" width="8.62" height="7.91" fill="#ca8aaa"/>
<rect x="24.50" y="313.11" width="9.62" height="8.91" fill="#ebc774"/>
<rect x="33.12" y="313.11" width="9.62" height="8.91" fill="#fff800"/>
<rect x="41.74" y="313.11" width="9.62" height="8.91" fill="#fff800"/>
<rect x="50.36" y="313.11" width="9.62" height="8.91" fill="#ffc000"/>
<rect x="58.98" y="313.11" width="9.62" height="8.91" fill="#ff6e00"/>
<rect x="67.60" y="313.11" width="9.62" height="8.91" fill="#ff8d00"/>
<rect x="76.22" y="313.11" width="9.62" height="8.91" fill="#ff9d00"/>
<rect x="84.84" y="313.11" width="9.62" height="8.91" fill="#fff800"/>
<rect x="93.46" y="313.11" width="9.62" height="8.91" fill="#e0af8a"/>
<rect x="102.08" y="313.11" width="9.62" height="8.91" fill="#a45ccd"/>
<rect x="110.70" y="313.11" width="8.62" height="7.91" fill="#a45ccd"/>
<rect x="24.50" y="321.02" width="9.62" height="8.91" fill="#ebc774"/>
<rect x="33.12" y="321.02" width="9.62" height="8.91" fill="#fffb00"/>
<rect x="41.74" y="321.02" width="9.62" height="8.91" fill="#fffb00"/>
<rect x="50.36" y="321.02" width="9.62" height="8.91" fill="#ffb500"/>
<rect x="58.98" y="321.02" width="9.62" height="8.91" fill="#ff4800"/>
<rect x="67.60" y="321.02" width="9.62" height="8.91" fill="#ff6900"/>
<rect x="76.22" y="321.02" width="9.62" height="8.91" fill="#ff8500"/>
<rect x="84.84" y="321.02" width="9.62" height="8.91" fill="#fff400"/>
<rect x="93.46" y="321.02" width="9.62" height="8.91" fill="#e0af8a"/>
<rect x="102.08" y="321.02" width="8.62" height="7.91" fill="#a45ccd"/>
<rect x="24.50" y="328.93" width="9.62" height="8.91" fill="#e9c279"/>
<rect x="33.12" y="328.93" width="9.62" height="8.91" fill="#ffff00"/>
<rect x="41.74" y="328.93" width="9.62" height="8.91" fill="#ffff00"/>
<rect x="50.36" y="328.93" width="9.62" height="8.91" fill="#ff9500"/>
<rect x="58.98" y="328.93" width="9.62" height="8.91" fill="#ff2700"/>
<rect x="67.60" y="328.93" width="9.62" height="8.91" fill="#ff0000"/>
<rect x="76.22" y="328.93" width="9.62" height="8.91" fill="#ff3100"/>
<rect x="84.84" y="328.93" width="9.62" height="8.91" fill="#ffcc00"/>
<rect x="93.46" y="328.93" width="8.62" height="7.91" fill="#edcb6f"/>
<rect x="24.50" y="336.84" width="9.62" height="8.91" fill="#b973bc"/>
<rect x="33.12" y="336.84" width="9.62" height="8.91" fill="#d3989e"/>
<rect x="41.74" y="336.84" width="9.62" height="8.91" fill="#d3989e"/>
<rect x="50.36" y="336.84" width="9.62" height="8.91" fill="#ffed00"/>
<rect x="58.98" y="336.84" width="9.62" height="8.91" fill="#ffcf00"/>
<rect x="67.60" y="336.84" width="9.62" height="8.91" fill="#ffe200"/>
<rect x="76.22" y="336.84" width="9.62" height="8.91" fill="#ffed00"/>
<rect x="84.84" y="336.84" width="8.62" height="7.91" fill="#d3989e"/>
<rect x="24.50" y="344.75" width="9.62" height="8.91" fill="#a960ca"/>
<rect x="33.12" y="344.75" width="9.62" height="8.91" fill="#b56fbf"/>
<rect x="41.74" y="344.75" width="9.62" height="8.91" fill="#b973bc"/>
<rect x="50.36" y="344.75" width="9.62" height="8.91" fill="#efd06a"/>
<rect x="58.98" y="344.75" width="9.62" height="8.91" fill="#ffe900"/>
<rect x="67.60" y="344.75" width="9.62" height="8.91" fill="#ffed00"/>
<rect x="76.22" y="344.75" width="8.62" height="7.91" fill="#ffed00"/>
<rect x="24.50" y="352.66" width="9.62" height="8.91" fill="#9f57d0"/>
<rect x="33.12" y="352.66" width="9.62" height="8.91" fill="#6e2feb"/>
<rect x="41.74" y="352.66" width="9.62" height="8.91" fill="#2d0bfc"/>
<rect x="50.36" y="352.66" width="9.62" height="8.91" fill="#4f1cf5"/>
<rect x="58.98" y="352.66" width="9.62" height="8.91" fill="#7d39e5"/>
<rect x="67.60" y="352.66" width="8.62" height="7.91" fill="#b973bc"/>
<rect x="24.50" y="360.57" width="9.62" height="8.91" fill="#9f57d0"/>
<rect x="33.12" y="360.57" width="9.62" height="8.91" fill="#6e2feb"/>
<rect x="41.74" y="360.57" width="9.62" height="8.91" fill="#0000ff"/>
<rect x="50.36" y="360.57" width="9.62" height="8.91" fill="#843fe1"/>
<rect x="58.98" y="360.57" width="8.62" height="7.91" fill="#4f1cf5"/>
<rect x="24.50" y="368.48" width="9.62" height="8.91" fill="#a960ca"/>
<rect x="33.12" y="368.48" width="9.62" height="8.91" fill="#9f57d0"/>
<rect x="41.74" y="368.48" width="9.62" height="8.91" fill="#9a52d4"/>
<rect x="50.36" y="368.48" width="8.62" height="7.91" fill="#9a52d4"/>
<rect x="24.50" y="376.39" width="9.62" height="8.91" fill="#a45ccd"/>
<rect x="33.12" y="376.39" width="9.62" height="8.91" fill="#9a52d4"/>
<rect x="41.74" y="376.39" width="8.62" height="7.91" fill="#954dd7"/>
<rect x="24.50" y="384.30" width="9.62" height="8.91" fill="#ad65c6"/>
<rect x="33.12" y="384.30" width="8.62" height="7.91" fill="#a45ccd"/>
<rect x="24.50" y="392.21" width="8.62" height="7.91" fill="#b16ac3"/>
<rect x="19.30" y="300.40" width="113.80" height="103.90" fill="none" stroke="#3a3a3a" stroke-width="0.8"/>
<line x1="28.81" y1="404.30" x2="28.81" y2="405.90" stroke="#3a3a3a" stroke-width="0.75"/>
<text x="29.11" y="409.00" font-size="4.2" text-anchor="middle" dominant-baseline="central" fill="#2a2a2a" stroke="#2a2a2a" stroke-width="0.12">December</text>
<line x1="54.67" y1="404.30" x2="54.67" y2="405.90" stroke="#3a3a3a" stroke-width="0.75"/>
<text x="54.97" y="409.00" font-size="4.2" text-anchor="middle" dominant-baseline="central" fill="#2a2a2a" stroke="#2a2a2a" stroke-width="0.12">September</text>
<line x1="80.53" y1="404.30" x2="80.53" y2="405.90" stroke="#3a3a3a" stroke-width="0.75"/>
<text x="80.83" y="409.00" font-size="4.2" text-anchor="middle" dominant-baseline="central" fill="#2a2a2a" stroke="#2a2a2a" stroke-width="0.12">June</text>
<line x1="106.39" y1="404.30" x2="106.39" y2="405.90" stroke="#3a3a3a" stroke-width="0.75"/>
<text x="106.69" y="409.00" font-size="4.2" text-anchor="middle" dominant-baseline="central" fill="#2a2a2a" stroke="#2a2a2a" stroke-width="0.12">March</text>
<line x1="132.25" y1="404.30" x2="132.25" y2="405.90" stroke="#3a3a3a" stroke-width="0.75"/>
<line x1="17.70" y1="396.16" x2="19.30" y2="396.16" stroke="#3a3a3a" stroke-width="0.75"/>
<text x="14.60" y="396.86" font-size="4.2" text-anchor="middle" dominant-baseline="central" fill="#2a2a2a" stroke="#2a2a2a" stroke-width="0.12" transform="rotate(-90 14.60 396.86)">Dec</text>
<line x1="17.70" y1="372.44" x2="19.30" y2="372.44" stroke="#3a3a3a" stroke-width="0.75"/>
<text x="14.60" y="373.13" font-size="4.2" text-anchor="middle" dominant-baseline="central" fill="#2a2a2a" stroke="#2a2a2a" stroke-width="0.12" transform="rotate(-90 14.60 373.13)">Sept</text>
<line x1="17.70" y1="348.70" x2="19.30" y2="348.70" stroke="#3a3a3a" stroke-width="0.75"/>
<text x="14.60" y="349.40" font-size="4.2" text-anchor="middle" dominant-baseline="central" fill="#2a2a2a" stroke="#2a2a2a" stroke-width="0.12" transform="rotate(-90 14.60 349.40)">June</text>
<line x1="17.70" y1="324.97" x2="19.30" y2="324.97" stroke="#3a3a3a" stroke-width="0.75"/>
<text x="14.60" y="325.67" font-size="4.2" text-anchor="middle" dominant-baseline="central" fill="#2a2a2a" stroke="#2a2a2a" stroke-width="0.12" transform="rotate(-90 14.60 325.67)">March</text>
<line x1="17.70" y1="301.25" x2="19.30" y2="301.25" stroke="#3a3a3a" stroke-width="0.75"/>
<text x="8.60" y="352.35" font-size="4.4" text-anchor="middle" dominant-baseline="central" font-weight="bold" fill="#1a1a1a" stroke="#1a1a1a" stroke-width="0.2" transform="rotate(-90 8.60 352.35)">Window open</text>
<text x="76.20" y="414.50" font-size="4.4" text-anchor="middle" dominant-baseline="central" font-weight="bold" fill="#1a1a1a" stroke="#1a1a1a" stroke-width="0.2">Window close</text>
<defs><linearGradient id="g4" x1="0" y1="0" x2="0" y2="1"><stop offset="0.000" stop-color="#0000ff"/><stop offset="0.025" stop-color="#4819f7"/><stop offset="0.050" stop-color="#6529ef"/><stop offset="0.075" stop-color="#7937e6"/><stop offset="0.100" stop-color="#8a44de"/><stop offset="0.125" stop-color="#9850d5"/><stop offset="0.150" stop-color="#a45ccd"/><stop offset="0.175" stop-color="#af68c4"/><stop offset="0.200" stop-color="#b973bc"/><stop offset="0.225" stop-color="#c27fb3"/><stop offset="0.250" stop-color="#ca8aaa"/><stop offset="0.275" stop-color="#d196a0"/><stop offset="0.300" stop-color="#d8a197"/><stop offset="0.325" stop-color="#dead8c"/><stop offset="0.350" stop-color="#e4b982"/><stop offset="0.375" stop-color="#eac476"/><stop offset="0.400" stop-color="#efd06a"/><stop offset="0.425" stop-color="#f3dc5b"/><stop offset="0.450" stop-color="#f8e74a"/><stop offset="0.475" stop-color="#fbf334"/><stop offset="0.500" stop-color="#ffff00"/><stop offset="0.525" stop-color="#fff600"/><stop offset="0.550" stop-color="#ffed00"/><stop offset="0.575" stop-color="#ffe400"/><stop offset="0.600" stop-color="#ffdb00"/><stop offset="0.625" stop-color="#ffd100"/><stop offset="0.650" stop-color="#ffc800"/><stop offset="0.675" stop-color="#ffbf00"/><stop offset="0.700" stop-color="#ffb500"/><stop offset="0.725" stop-color="#ffab00"/><stop offset="0.750" stop-color="#ffa100"/><stop offset="0.775" stop-color="#ff9700"/><stop offset="0.800" stop-color="#ff8d00"/><stop offset="0.825" stop-color="#ff8200"/><stop offset="0.850" stop-color="#ff7700"/><stop offset="0.875" stop-color="#ff6c00"/><stop offset="0.900" stop-color="#ff5f00"/><stop offset="0.925" stop-color="#ff5100"/><stop offset="0.950" stop-color="#ff4100"/><stop offset="0.975" stop-color="#ff2c00"/><stop offset="1.000" stop-color="#ff0000"/></linearGradient></defs>
<rect x="96.10" y="355.10" width="8.80" height="42.20" fill="url(#g4)"/>
<text x="106.60" y="364.70" font-size="4.55" text-anchor="start" dominant-baseline="central" fill="#2a2a2a" stroke="#2a2a2a" stroke-width="0.12">0</text>
<text x="106.60" y="375.00" font-size="4.55" text-anchor="start" dominant-baseline="central" fill="#2a2a2a" stroke="#2a2a2a" stroke-width="0.12">&#8722;5</text>
<text x="106.60" y="384.90" font-size="4.55" text-anchor="start" dominant-baseline="central" fill="#2a2a2a" stroke="#2a2a2a" stroke-width="0.12">&#8722;10</text>
<text x="106.60" y="395.00" font-size="4.55" text-anchor="start" dominant-baseline="central" fill="#2a2a2a" stroke="#2a2a2a" stroke-width="0.12">&#8722;15</text>
<text x="207.70" y="293.50" font-size="5.1" text-anchor="middle" dominant-baseline="central" fill="#1a1a1a" stroke="#1a1a1a" stroke-width="0.1">21% of models fall within the</text>
<text x="207.70" y="299.50" font-size="5.1" text-anchor="middle" dominant-baseline="central" fill="#1a1a1a" stroke="#1a1a1a" stroke-width="0.1">95% confidence set</text>
<rect x="181.68" y="308.60" width="34.20" height="30.48" fill="#eeeeee"/>
<rect x="198.78" y="331.46" width="9.05" height="7.62" fill="#333333"/>
<rect x="207.33" y="331.46" width="8.55" height="7.62" fill="#6a6a6a"/>
<rect x="151.10" y="303.80" width="113.20" height="100.90" fill="none" stroke="#3a3a3a" stroke-width="0.8"/>
<line x1="160.30" y1="404.70" x2="160.30" y2="406.30" stroke="#3a3a3a" stroke-width="0.75"/>
<text x="160.60" y="409.00" font-size="4.2" text-anchor="middle" dominant-baseline="central" fill="#2a2a2a" stroke="#2a2a2a" stroke-width="0.12">December</text>
<line x1="185.95" y1="404.70" x2="185.95" y2="406.30" stroke="#3a3a3a" stroke-width="0.75"/>
<text x="186.25" y="409.00" font-size="4.2" text-anchor="middle" dominant-baseline="central" fill="#2a2a2a" stroke="#2a2a2a" stroke-width="0.12">September</text>
<line x1="211.60" y1="404.70" x2="211.60" y2="406.30" stroke="#3a3a3a" stroke-width="0.75"/>
<text x="211.90" y="409.00" font-size="4.2" text-anchor="middle" dominant-baseline="central" fill="#2a2a2a" stroke="#2a2a2a" stroke-width="0.12">June</text>
<line x1="237.25" y1="404.70" x2="237.25" y2="406.30" stroke="#3a3a3a" stroke-width="0.75"/>
<text x="237.55" y="409.00" font-size="4.2" text-anchor="middle" dominant-baseline="central" fill="#2a2a2a" stroke="#2a2a2a" stroke-width="0.12">March</text>
<line x1="262.90" y1="404.70" x2="262.90" y2="406.30" stroke="#3a3a3a" stroke-width="0.75"/>
<line x1="149.50" y1="396.23" x2="151.10" y2="396.23" stroke="#3a3a3a" stroke-width="0.75"/>
<text x="146.00" y="396.93" font-size="4.2" text-anchor="middle" dominant-baseline="central" fill="#2a2a2a" stroke="#2a2a2a" stroke-width="0.12" transform="rotate(-90 146.00 396.93)">Dec</text>
<line x1="149.50" y1="373.37" x2="151.10" y2="373.37" stroke="#3a3a3a" stroke-width="0.75"/>
<text x="146.00" y="374.07" font-size="4.2" text-anchor="middle" dominant-baseline="central" fill="#2a2a2a" stroke="#2a2a2a" stroke-width="0.12" transform="rotate(-90 146.00 374.07)">Sept</text>
<line x1="149.50" y1="350.51" x2="151.10" y2="350.51" stroke="#3a3a3a" stroke-width="0.75"/>
<text x="146.00" y="351.21" font-size="4.2" text-anchor="middle" dominant-baseline="central" fill="#2a2a2a" stroke="#2a2a2a" stroke-width="0.12" transform="rotate(-90 146.00 351.21)">June</text>
<line x1="149.50" y1="327.65" x2="151.10" y2="327.65" stroke="#3a3a3a" stroke-width="0.75"/>
<text x="146.00" y="328.35" font-size="4.2" text-anchor="middle" dominant-baseline="central" fill="#2a2a2a" stroke="#2a2a2a" stroke-width="0.12" transform="rotate(-90 146.00 328.35)">March</text>
<line x1="149.50" y1="304.79" x2="151.10" y2="304.79" stroke="#3a3a3a" stroke-width="0.75"/>
<text x="140.00" y="354.25" font-size="4.4" text-anchor="middle" dominant-baseline="central" font-weight="bold" fill="#1a1a1a" stroke="#1a1a1a" stroke-width="0.2" transform="rotate(-90 140.00 354.25)">Window open</text>
<text x="207.70" y="414.50" font-size="4.4" text-anchor="middle" dominant-baseline="central" font-weight="bold" fill="#1a1a1a" stroke="#1a1a1a" stroke-width="0.2">Window close</text>
<defs><linearGradient id="g5" x1="0" y1="0" x2="0" y2="1"><stop offset="0.000" stop-color="#ffffff"/><stop offset="0.050" stop-color="#f1f1f1"/><stop offset="0.100" stop-color="#e2e2e2"/><stop offset="0.150" stop-color="#d4d4d4"/><stop offset="0.200" stop-color="#c6c6c6"/><stop offset="0.250" stop-color="#b9b9b9"/><stop offset="0.300" stop-color="#ababab"/><stop offset="0.350" stop-color="#9e9e9e"/><stop offset="0.400" stop-color="#919191"/><stop offset="0.450" stop-color="#848484"/><stop offset="0.500" stop-color="#777777"/><stop offset="0.550" stop-color="#6a6a6a"/><stop offset="0.600" stop-color="#5e5e5e"/><stop offset="0.650" stop-color="#525252"/><stop offset="0.700" stop-color="#474747"/><stop offset="0.750" stop-color="#3b3b3b"/><stop offset="0.800" stop-color="#303030"/><stop offset="0.850" stop-color="#262626"/><stop offset="0.900" stop-color="#1b1b1b"/><stop offset="0.950" stop-color="#111111"/><stop offset="1.000" stop-color="#000000"/></linearGradient></defs>
<rect x="226.90" y="357.40" width="8.10" height="40.90" fill="url(#g5)"/>
<text x="237.30" y="359.70" font-size="4.55" text-anchor="start" dominant-baseline="central" fill="#2a2a2a" stroke="#2a2a2a" stroke-width="0.12">0.95</text>
<text x="237.30" y="377.80" font-size="4.55" text-anchor="start" dominant-baseline="central" fill="#2a2a2a" stroke="#2a2a2a" stroke-width="0.12">0.50</text>
<text x="237.30" y="387.60" font-size="4.55" text-anchor="start" dominant-baseline="central" fill="#2a2a2a" stroke="#2a2a2a" stroke-width="0.12">0.25</text>
<text x="339.55" y="293.40" font-size="5.1" text-anchor="middle" dominant-baseline="central" fill="#1a1a1a" stroke="#1a1a1a" stroke-width="0.1">Beta linear</text>
<rect x="288.10" y="303.00" width="9.59" height="9.09" fill="#8a44de"/>
<rect x="296.69" y="303.00" width="9.59" height="9.09" fill="#7634e8"/>
<rect x="305.28" y="303.00" width="9.59" height="9.09" fill="#7634e8"/>
<rect x="313.87" y="303.00" width="9.59" height="9.09" fill="#0000ff"/>
<rect x="322.46" y="303.00" width="9.59" height="9.09" fill="#4f1cf5"/>
<rect x="331.05" y="303.00" width="9.59" height="9.09" fill="#954dd7"/>
<rect x="339.64" y="303.00" width="9.59" height="9.09" fill="#b973bc"/>
<rect x="348.23" y="303.00" width="9.59" height="9.09" fill="#d8a197"/>
<rect x="356.82" y="303.00" width="9.59" height="9.09" fill="#f4de58"/>
<rect x="365.41" y="303.00" width="9.59" height="9.09" fill="#ffd300"/>
<rect x="374.00" y="303.00" width="9.59" height="9.09" fill="#ffcf00"/>
<rect x="382.59" y="303.00" width="8.59" height="8.09" fill="#ffc000"/>
<rect x="288.10" y="311.09" width="9.59" height="9.09" fill="#c381b1"/>
<rect x="296.69" y="311.09" width="9.59" height="9.09" fill="#a45ccd"/>
<rect x="305.28" y="311.09" width="9.59" height="9.09" fill="#a45ccd"/>
<rect x="313.87" y="311.09" width="9.59" height="9.09" fill="#7634e8"/>
<rect x="322.46" y="311.09" width="9.59" height="9.09" fill="#4f1cf5"/>
<rect x="331.05" y="311.09" width="9.59" height="9.09" fill="#954dd7"/>
<rect x="339.64" y="311.09" width="9.59" height="9.09" fill="#bc78b8"/>
<rect x="348.23" y="311.09" width="9.59" height="9.09" fill="#ddab8f"/>
<rect x="356.82" y="311.09" width="9.59" height="9.09" fill="#fff800"/>
<rect x="365.41" y="311.09" width="9.59" height="9.09" fill="#ffad00"/>
<rect x="374.00" y="311.09" width="8.59" height="8.09" fill="#ffa900"/>
<rect x="288.10" y="319.18" width="9.59" height="9.09" fill="#c381b1"/>
<rect x="296.69" y="319.18" width="9.59" height="9.09" fill="#a45ccd"/>
<rect x="305.28" y="319.18" width="9.59" height="9.09" fill="#a45ccd"/>
<rect x="313.87" y="319.18" width="9.59" height="9.09" fill="#7634e8"/>
<rect x="322.46" y="319.18" width="9.59" height="9.09" fill="#6529ef"/>
<rect x="331.05" y="319.18" width="9.59" height="9.09" fill="#9a52d4"/>
<rect x="339.64" y="319.18" width="9.59" height="9.09" fill="#c07cb5"/>
<rect x="348.23" y="319.18" width="9.59" height="9.09" fill="#ddab8f"/>
<rect x="356.82" y="319.18" width="9.59" height="9.09" fill="#fff400"/>
<rect x="365.41" y="319.18" width="8.59" height="8.09" fill="#ffad00"/>
<rect x="288.10" y="327.27" width="9.59" height="9.09" fill="#d094a2"/>
<rect x="296.69" y="327.27" width="9.59" height="9.09" fill="#ad65c6"/>
<rect x="305.28" y="327.27" width="9.59" height="9.09" fill="#a45ccd"/>
<rect x="313.87" y="327.27" width="9.59" height="9.09" fill="#7d39e5"/>
<rect x="322.46" y="327.27" width="9.59" height="9.09" fill="#8a44de"/>
<rect x="331.05" y="327.27" width="9.59" height="9.09" fill="#a45ccd"/>
<rect x="339.64" y="327.27" width="9.59" height="9.09" fill="#c381b1"/>
<rect x="348.23" y="327.27" width="9.59" height="9.09" fill="#e4b982"/>
<rect x="356.82" y="327.27" width="8.59" height="8.09" fill="#ffed00"/>
<rect x="288.10" y="335.36" width="9.59" height="9.09" fill="#fff800"/>
<rect x="296.69" y="335.36" width="9.59" height="9.09" fill="#f2d95e"/>
<rect x="305.28" y="335.36" width="9.59" height="9.09" fill="#f2d95e"/>
<rect x="313.87" y="335.36" width="9.59" height="9.09" fill="#c381b1"/>
<rect x="322.46" y="335.36" width="9.59" height="9.09" fill="#d59d9b"/>
<rect x="331.05" y="335.36" width="9.59" height="9.09" fill="#ddab8f"/>
<rect x="339.64" y="335.36" width="9.59" height="9.09" fill="#efd06a"/>
<rect x="348.23" y="335.36" width="8.59" height="8.09" fill="#ffed00"/>
<rect x="288.10" y="343.45" width="9.59" height="9.09" fill="#ffcc00"/>
<rect x="296.69" y="343.45" width="9.59" height="9.09" fill="#fff400"/>
<rect x="305.28" y="343.45" width="9.59" height="9.09" fill="#fff800"/>
<rect x="313.87" y="343.45" width="9.59" height="9.09" fill="#e4b982"/>
<rect x="322.46" y="343.45" width="9.59" height="9.09" fill="#e4b982"/>
<rect x="331.05" y="343.45" width="9.59" height="9.09" fill="#edcb6f"/>
<rect x="339.64" y="343.45" width="8.59" height="8.09" fill="#fffb00"/>
<rect x="288.10" y="351.54" width="9.59" height="9.09" fill="#ff4100"/>
<rect x="296.69" y="351.54" width="9.59" height="9.09" fill="#ff7c00"/>
<rect x="305.28" y="351.54" width="9.59" height="9.09" fill="#ff9500"/>
<rect x="313.87" y="351.54" width="9.59" height="9.09" fill="#ffb900"/>
<rect x="322.46" y="351.54" width="9.59" height="9.09" fill="#ffc000"/>
<rect x="331.05" y="351.54" width="8.59" height="8.09" fill="#ffad00"/>
<rect x="288.10" y="359.63" width="9.59" height="9.09" fill="#ff3100"/>
<rect x="296.69" y="359.63" width="9.59" height="9.09" fill="#ff6e00"/>
<rect x="305.28" y="359.63" width="9.59" height="9.09" fill="#ff8900"/>
<rect x="313.87" y="359.63" width="9.59" height="9.09" fill="#ffa100"/>
<rect x="322.46" y="359.63" width="8.59" height="8.09" fill="#ffa100"/>
<rect x="288.10" y="367.72" width="9.59" height="9.09" fill="#ff0000"/>
<rect x="296.69" y="367.72" width="9.59" height="9.09" fill="#ff6900"/>
<rect x="305.28" y="367.72" width="9.59" height="9.09" fill="#ff8500"/>
<rect x="313.87" y="367.72" width="8.59" height="8.09" fill="#ff8d00"/>
<rect x="288.10" y="375.81" width="9.59" height="9.09" fill="#ff2700"/>
<rect x="296.69" y="375.81" width="9.59" height="9.09" fill="#ff6900"/>
<rect x="305.28" y="375.81" width="8.59" height="8.09" fill="#ff8000"/>
<rect x="288.10" y="383.90" width="9.59" height="9.09" fill="#ff3900"/>
<rect x="296.69" y="383.90" width="8.59" height="8.09" fill="#ff6900"/>
<rect x="288.10" y="391.99" width="8.59" height="8.09" fill="#ff6400"/>
<rect x="282.80" y="298.60" width="113.50" height="105.70" fill="none" stroke="#3a3a3a" stroke-width="0.8"/>
<line x1="292.40" y1="404.30" x2="292.40" y2="405.90" stroke="#3a3a3a" stroke-width="0.75"/>
<text x="292.70" y="409.00" font-size="4.2" text-anchor="middle" dominant-baseline="central" fill="#2a2a2a" stroke="#2a2a2a" stroke-width="0.12">December</text>
<line x1="318.17" y1="404.30" x2="318.17" y2="405.90" stroke="#3a3a3a" stroke-width="0.75"/>
<text x="318.47" y="409.00" font-size="4.2" text-anchor="middle" dominant-baseline="central" fill="#2a2a2a" stroke="#2a2a2a" stroke-width="0.12">September</text>
<line x1="343.94" y1="404.30" x2="343.94" y2="405.90" stroke="#3a3a3a" stroke-width="0.75"/>
<text x="344.24" y="409.00" font-size="4.2" text-anchor="middle" dominant-baseline="central" fill="#2a2a2a" stroke="#2a2a2a" stroke-width="0.12">June</text>
<line x1="369.71" y1="404.30" x2="369.71" y2="405.90" stroke="#3a3a3a" stroke-width="0.75"/>
<text x="370.01" y="409.00" font-size="4.2" text-anchor="middle" dominant-baseline="central" fill="#2a2a2a" stroke="#2a2a2a" stroke-width="0.12">March</text>
<line x1="395.48" y1="404.30" x2="395.48" y2="405.90" stroke="#3a3a3a" stroke-width="0.75"/>
<line x1="281.20" y1="396.03" x2="282.80" y2="396.03" stroke="#3a3a3a" stroke-width="0.75"/>
<text x="277.90" y="396.73" font-size="4.2" text-anchor="middle" dominant-baseline="central" fill="#2a2a2a" stroke="#2a2a2a" stroke-width="0.12" transform="rotate(-90 277.90 396.73)">Dec</text>
<line x1="281.20" y1="371.76" x2="282.80" y2="371.76" stroke="#3a3a3a" stroke-width="0.75"/>
<text x="277.90" y="372.46" font-size="4.2" text-anchor="middle" dominant-baseline="central" fill="#2a2a2a" stroke="#2a2a2a" stroke-width="0.12" transform="rotate(-90 277.90 372.46)">Sept</text>
<line x1="281.20" y1="347.50" x2="282.80" y2="347.50" stroke="#3a3a3a" stroke-width="0.75"/>
<text x="277.90" y="348.19" font-size="4.2" text-anchor="middle" dominant-baseline="central" fill="#2a2a2a" stroke="#2a2a2a" stroke-width="0.12" transform="rotate(-90 277.90 348.19)">June</text>
<line x1="281.20" y1="323.23" x2="282.80" y2="323.23" stroke="#3a3a3a" stroke-width="0.75"/>
<text x="277.90" y="323.93" font-size="4.2" text-anchor="middle" dominant-baseline="central" fill="#2a2a2a" stroke="#2a2a2a" stroke-width="0.12" transform="rotate(-90 277.90 323.93)">March</text>
<line x1="281.20" y1="298.95" x2="282.80" y2="298.95" stroke="#3a3a3a" stroke-width="0.75"/>
<text x="271.80" y="351.45" font-size="4.4" text-anchor="middle" dominant-baseline="central" font-weight="bold" fill="#1a1a1a" stroke="#1a1a1a" stroke-width="0.2" transform="rotate(-90 271.80 351.45)">Window open</text>
<text x="339.55" y="414.50" font-size="4.4" text-anchor="middle" dominant-baseline="central" font-weight="bold" fill="#1a1a1a" stroke="#1a1a1a" stroke-width="0.2">Window close</text>
<defs><linearGradient id="g6" x1="0" y1="0" x2="0" y2="1"><stop offset="0.000" stop-color="#0000ff"/><stop offset="0.025" stop-color="#4819f7"/><stop offset="0.050" stop-color="#6529ef"/><stop offset="0.075" stop-color="#7937e6"/><stop offset="0.100" stop-color="#8a44de"/><stop offset="0.125" stop-color="#9850d5"/><stop offset="0.150" stop-color="#a45ccd"/><stop offset="0.175" stop-color="#af68c4"/><stop offset="0.200" stop-color="#b973bc"/><stop offset="0.225" stop-color="#c27fb3"/><stop offset="0.250" stop-color="#ca8aaa"/><stop offset="0.275" stop-color="#d196a0"/><stop offset="0.300" stop-color="#d8a197"/><stop offset="0.325" stop-color="#dead8c"/><stop offset="0.350" stop-color="#e4b982"/><stop offset="0.375" stop-color="#eac476"/><stop offset="0.400" stop-color="#efd06a"/><stop offset="0.425" stop-color="#f3dc5b"/><stop offset="0.450" stop-color="#f8e74a"/><stop offset="0.475" stop-color="#fbf334"/><stop offset="0.500" stop-color="#ffff00"/><stop offset="0.525" stop-color="#fff600"/><stop offset="0.550" stop-color="#ffed00"/><stop offset="0.575" stop-color="#ffe400"/><stop offset="0.600" stop-color="#ffdb00"/><stop offset="0.625" stop-color="#ffd100"/><stop offset="0.650" stop-color="#ffc800"/><stop offset="0.675" stop-color="#ffbf00"/><stop offset="0.700" stop-color="#ffb500"/><stop offset="0.725" stop-color="#ffab00"/><stop offset="0.750" stop-color="#ffa100"/><stop offset="0.775" stop-color="#ff9700"/><stop offset="0.800" stop-color="#ff8d00"/><stop offset="0.825" stop-color="#ff8200"/><stop offset="0.850" stop-color="#ff7700"/><stop offset="0.875" stop-color="#ff6c00"/><stop offset="0.900" stop-color="#ff5f00"/><stop offset="0.925" stop-color="#ff5100"/><stop offset="0.950" stop-color="#ff4100"/><stop offset="0.975" stop-color="#ff2c00"/><stop offset="1.000" stop-color="#ff0000"/></linearGradient></defs>
<rect x="356.20" y="354.70" width="8.70" height="42.10" fill="url(#g6)"/>
<text x="366.70" y="355.90" font-size="4.55" text-anchor="start" dominant-baseline="central" fill="#2a2a2a" stroke="#2a2a2a" stroke-width="0.12">0.008</text>
<text x="366.70" y="363.90" font-size="4.55" text-anchor="start" dominant-baseline="central" fill="#2a2a2a" stroke="#2a2a2a" stroke-width="0.12">0.006</text>
<text x="366.70" y="371.90" font-size="4.55" text-anchor="start" dominant-baseline="central" fill="#2a2a2a" stroke="#2a2a2a" stroke-width="0.12">0.004</text>
<text x="366.70" y="379.80" font-size="4.55" text-anchor="start" dominant-baseline="central" fill="#2a2a2a" stroke="#2a2a2a" stroke-width="0.12">0.002</text>
<text x="366.70" y="387.90" font-size="4.55" text-anchor="start" dominant-baseline="central" fill="#2a2a2a" stroke="#2a2a2a" stroke-width="0.12">0.000</text>
<text x="366.70" y="396.00" font-size="4.55" text-anchor="start" dominant-baseline="central" fill="#2a2a2a" stroke="#2a2a2a" stroke-width="0.12">&#8722;0.002</text>
<text x="77.10" y="423.10" font-size="5.1" text-anchor="middle" dominant-baseline="central" fill="#1a1a1a" stroke="#1a1a1a" stroke-width="0.1">Histogram of &#916;AICc</text>
<text x="77.1" y="430.8" font-size="5.1" text-anchor="middle" dominant-baseline="central" fill="#1a1a1a" stroke="#1a1a1a" stroke-width="0.1">P<tspan font-size="3.2" dy="1.2">&#916;AICc</tspan><tspan dy="-1.2"> &lt;0.001  P</tspan><tspan font-size="3.2" dy="1.2">C</tspan><tspan dy="-1.2"> &lt;0.001</tspan></text>
<rect x="20.50" y="436.10" width="112.90" height="95.40" fill="none" stroke="#3a3a3a" stroke-width="0.8"/>
<line x1="25.54" y1="527.20" x2="51.10" y2="527.20" stroke="#222" stroke-width="0.8"/>
<rect x="51.10" y="526.20" width="8.52" height="1.00" fill="#fbb8b0" stroke="#2a2a2a" stroke-width="0.7"/>
<rect x="59.62" y="525.29" width="8.52" height="1.91" fill="#fbb8b0" stroke="#2a2a2a" stroke-width="0.7"/>
<rect x="68.14" y="522.43" width="8.52" height="4.77" fill="#fbb8b0" stroke="#2a2a2a" stroke-width="0.7"/>
<rect x="76.66" y="515.15" width="8.52" height="12.05" fill="#fbb8b0" stroke="#2a2a2a" stroke-width="0.7"/>
<rect x="85.18" y="498.59" width="8.52" height="28.61" fill="#fbb8b0" stroke="#2a2a2a" stroke-width="0.7"/>
<rect x="93.70" y="471.98" width="8.52" height="55.22" fill="#fbb8b0" stroke="#2a2a2a" stroke-width="0.7"/>
<rect x="102.22" y="440.10" width="8.52" height="87.10" fill="#fbb8b0" stroke="#2a2a2a" stroke-width="0.7"/>
<rect x="110.74" y="467.96" width="8.52" height="59.24" fill="#fbb8b0" stroke="#2a2a2a" stroke-width="0.7"/>
<rect x="119.26" y="525.29" width="8.52" height="1.91" fill="#fbb8b0" stroke="#2a2a2a" stroke-width="0.7"/>
<line x1="43.75" y1="436.10" x2="43.75" y2="531.50" stroke="#1a1a1a" stroke-width="1.2" stroke-dasharray="4.3,5.07" stroke-dashoffset="2.6"/>
<line x1="18.90" y1="527.20" x2="20.50" y2="527.20" stroke="#3a3a3a" stroke-width="0.75"/>
<text x="15.40" y="527.20" font-size="3.7" text-anchor="middle" dominant-baseline="central" fill="#2a2a2a" stroke="#2a2a2a" stroke-width="0.22">0.0</text>
<line x1="18.90" y1="502.10" x2="20.50" y2="502.10" stroke="#3a3a3a" stroke-width="0.75"/>
<text x="15.40" y="502.10" font-size="3.7" text-anchor="middle" dominant-baseline="central" fill="#2a2a2a" stroke="#2a2a2a" stroke-width="0.22">0.1</text>
<line x1="18.90" y1="477.00" x2="20.50" y2="477.00" stroke="#3a3a3a" stroke-width="0.75"/>
<text x="15.40" y="477.00" font-size="3.7" text-anchor="middle" dominant-baseline="central" fill="#2a2a2a" stroke="#2a2a2a" stroke-width="0.22">0.2</text>
<line x1="18.90" y1="451.90" x2="20.50" y2="451.90" stroke="#3a3a3a" stroke-width="0.75"/>
<text x="15.40" y="451.90" font-size="3.7" text-anchor="middle" dominant-baseline="central" fill="#2a2a2a" stroke="#2a2a2a" stroke-width="0.22">0.3</text>
<line x1="29.80" y1="531.50" x2="29.80" y2="533.10" stroke="#3a3a3a" stroke-width="0.75"/>
<text x="29.80" y="535.50" font-size="3.7" text-anchor="middle" dominant-baseline="central" fill="#2a2a2a" stroke="#2a2a2a" stroke-width="0.22">&#8722;20</text>
<line x1="51.10" y1="531.50" x2="51.10" y2="533.10" stroke="#3a3a3a" stroke-width="0.75"/>
<text x="51.10" y="535.50" font-size="3.7" text-anchor="middle" dominant-baseline="central" fill="#2a2a2a" stroke="#2a2a2a" stroke-width="0.22">&#8722;15</text>
<line x1="72.40" y1="531.50" x2="72.40" y2="533.10" stroke="#3a3a3a" stroke-width="0.75"/>
<text x="72.40" y="535.50" font-size="3.7" text-anchor="middle" dominant-baseline="central" fill="#2a2a2a" stroke="#2a2a2a" stroke-width="0.22">&#8722;10</text>
<line x1="93.70" y1="531.50" x2="93.70" y2="533.10" stroke="#3a3a3a" stroke-width="0.75"/>
<text x="93.70" y="535.50" font-size="3.7" text-anchor="middle" dominant-baseline="central" fill="#2a2a2a" stroke="#2a2a2a" stroke-width="0.22">&#8722;5</text>
<line x1="115.00" y1="531.50" x2="115.00" y2="533.10" stroke="#3a3a3a" stroke-width="0.75"/>
<text x="115.00" y="535.50" font-size="3.7" text-anchor="middle" dominant-baseline="central" fill="#2a2a2a" stroke="#2a2a2a" stroke-width="0.22">0</text>
<text x="8.20" y="483.50" font-size="4.3" text-anchor="middle" dominant-baseline="central" font-weight="bold" fill="#1a1a1a" stroke="#1a1a1a" stroke-width="0.2" transform="rotate(-90 8.20 483.50)">Proportion</text>
<text x="76.80" y="541.60" font-size="4.3" text-anchor="middle" dominant-baseline="central" fill="#2a2a2a" stroke="#2a2a2a" stroke-width="0.1">&#916;AICc (compared to null model)</text>
<text x="206.70" y="423.50" font-size="5.1" text-anchor="middle" dominant-baseline="central" fill="#1a1a1a" stroke="#1a1a1a" stroke-width="0.1">Climate window range for</text>
<text x="206.70" y="428.60" font-size="5.1" text-anchor="middle" dominant-baseline="central" fill="#1a1a1a" stroke="#1a1a1a" stroke-width="0.1">95% confidence set</text>
<rect x="148.80" y="432.40" width="115.80" height="100.60" fill="none" stroke="#3a3a3a" stroke-width="0.8"/>
<line x1="182.90" y1="459.85" x2="189.30" y2="459.85" stroke="#777" stroke-width="0.6"/>
<line x1="204.70" y1="459.85" x2="211.60" y2="459.85" stroke="#777" stroke-width="0.6"/>
<rect x="189.30" y="448.10" width="15.40" height="23.50" fill="#fff" stroke="#777" stroke-width="0.6"/>
<line x1="196.20" y1="448.10" x2="196.20" y2="471.60" stroke="#222" stroke-width="1.1"/>
<line x1="230.60" y1="506.15" x2="237.30" y2="506.15" stroke="#777" stroke-width="0.6"/>
<line x1="252.40" y1="506.15" x2="259.60" y2="506.15" stroke="#777" stroke-width="0.6"/>
<rect x="237.30" y="494.40" width="15.10" height="23.50" fill="#fff" stroke="#777" stroke-width="0.6"/>
<line x1="244.80" y1="494.40" x2="244.80" y2="517.90" stroke="#222" stroke-width="1.1"/>
<line x1="153.50" y1="533.00" x2="153.50" y2="534.60" stroke="#3a3a3a" stroke-width="0.75"/>
<text x="153.50" y="537.40" font-size="4.2" text-anchor="middle" dominant-baseline="central" fill="#2a2a2a" stroke="#2a2a2a" stroke-width="0.12">December</text>
<line x1="182.10" y1="533.00" x2="182.10" y2="534.60" stroke="#3a3a3a" stroke-width="0.75"/>
<text x="182.10" y="537.40" font-size="4.2" text-anchor="middle" dominant-baseline="central" fill="#2a2a2a" stroke="#2a2a2a" stroke-width="0.12">September</text>
<line x1="210.70" y1="533.00" x2="210.70" y2="534.60" stroke="#3a3a3a" stroke-width="0.75"/>
<text x="210.70" y="537.40" font-size="4.2" text-anchor="middle" dominant-baseline="central" fill="#2a2a2a" stroke="#2a2a2a" stroke-width="0.12">June</text>
<line x1="239.30" y1="533.00" x2="239.30" y2="534.60" stroke="#3a3a3a" stroke-width="0.75"/>
<text x="239.30" y="537.40" font-size="4.2" text-anchor="middle" dominant-baseline="central" fill="#2a2a2a" stroke="#2a2a2a" stroke-width="0.12">March</text>
<line x1="147.20" y1="459.90" x2="148.80" y2="459.90" stroke="#3a3a3a" stroke-width="0.75"/>
<text x="145.60" y="459.90" font-size="3.6" text-anchor="middle" dominant-baseline="central" font-weight="bold" fill="#2a2a2a" stroke="#2a2a2a" stroke-width="0.2" transform="rotate(-90 145.60 459.90)">Window Close</text>
<line x1="147.20" y1="506.20" x2="148.80" y2="506.20" stroke="#3a3a3a" stroke-width="0.75"/>
<text x="145.60" y="506.20" font-size="3.6" text-anchor="middle" dominant-baseline="central" font-weight="bold" fill="#2a2a2a" stroke="#2a2a2a" stroke-width="0.2" transform="rotate(-90 145.60 506.20)">Window Open</text>
<text x="206.70" y="543.30" font-size="4.4" text-anchor="middle" dominant-baseline="central" font-weight="bold" fill="#1a1a1a" stroke="#1a1a1a" stroke-width="0.2">Climate window</text>
<text x="340.20" y="423.30" font-size="5.1" text-anchor="middle" dominant-baseline="central" fill="#1a1a1a" stroke="#1a1a1a" stroke-width="0.1">Output of best model</text>
<rect x="284.00" y="428.00" width="112.40" height="105.20" fill="none" stroke="#3a3a3a" stroke-width="0.8"/>
<circle cx="367.4" cy="432.6" r="1.35" fill="#c8c8c8" stroke="#b0b0b0" stroke-width="0.35"/>
<circle cx="337.9" cy="450.9" r="1.35" fill="#c8c8c8" stroke="#b0b0b0" stroke-width="0.35"/>
<circle cx="298.6" cy="461.0" r="1.35" fill="#c8c8c8" stroke="#b0b0b0" stroke-width="0.35"/>
<circle cx="314.9" cy="465.1" r="1.35" fill="#c8c8c8" stroke="#b0b0b0" stroke-width="0.35"/>
<circle cx="318.9" cy="465.1" r="1.35" fill="#c8c8c8" stroke="#b0b0b0" stroke-width="0.35"/>
<circle cx="323.4" cy="469.9" r="1.35" fill="#c8c8c8" stroke="#b0b0b0" stroke-width="0.35"/>
<circle cx="327.2" cy="468.4" r="1.35" fill="#c8c8c8" stroke="#b0b0b0" stroke-width="0.35"/>
<circle cx="327.2" cy="470.8" r="1.35" fill="#c8c8c8" stroke="#b0b0b0" stroke-width="0.35"/>
<circle cx="331.7" cy="469.0" r="1.35" fill="#c8c8c8" stroke="#b0b0b0" stroke-width="0.35"/>
<circle cx="308.2" cy="472.6" r="1.35" fill="#c8c8c8" stroke="#b0b0b0" stroke-width="0.35"/>
<circle cx="330.6" cy="481.2" r="1.35" fill="#c8c8c8" stroke="#b0b0b0" stroke-width="0.35"/>
<circle cx="333.0" cy="481.8" r="1.35" fill="#c8c8c8" stroke="#b0b0b0" stroke-width="0.35"/>
<circle cx="324.6" cy="484.1" r="1.35" fill="#c8c8c8" stroke="#b0b0b0" stroke-width="0.35"/>
<circle cx="311.9" cy="487.4" r="1.35" fill="#c8c8c8" stroke="#b0b0b0" stroke-width="0.35"/>
<circle cx="364.3" cy="453.5" r="1.35" fill="#c8c8c8" stroke="#b0b0b0" stroke-width="0.35"/>
<circle cx="365.4" cy="456.2" r="1.35" fill="#c8c8c8" stroke="#b0b0b0" stroke-width="0.35"/>
<circle cx="391.4" cy="451.0" r="1.35" fill="#c8c8c8" stroke="#b0b0b0" stroke-width="0.35"/>
<circle cx="375.8" cy="464.4" r="1.35" fill="#c8c8c8" stroke="#b0b0b0" stroke-width="0.35"/>
<circle cx="343.6" cy="473.7" r="1.35" fill="#c8c8c8" stroke="#b0b0b0" stroke-width="0.35"/>
<circle cx="349.1" cy="484.4" r="1.35" fill="#c8c8c8" stroke="#b0b0b0" stroke-width="0.35"/>
<circle cx="340.2" cy="487.4" r="1.35" fill="#c8c8c8" stroke="#b0b0b0" stroke-width="0.35"/>
<circle cx="311.6" cy="487.3" r="1.35" fill="#c8c8c8" stroke="#b0b0b0" stroke-width="0.35"/>
<circle cx="315.4" cy="489.5" r="1.35" fill="#c8c8c8" stroke="#b0b0b0" stroke-width="0.35"/>
<circle cx="302.9" cy="491.8" r="1.35" fill="#c8c8c8" stroke="#b0b0b0" stroke-width="0.35"/>
<circle cx="293.9" cy="500.4" r="1.35" fill="#c8c8c8" stroke="#b0b0b0" stroke-width="0.35"/>
<circle cx="315.4" cy="500.4" r="1.35" fill="#c8c8c8" stroke="#b0b0b0" stroke-width="0.35"/>
<circle cx="317.7" cy="502.5" r="1.35" fill="#c8c8c8" stroke="#b0b0b0" stroke-width="0.35"/>
<circle cx="320.3" cy="504.3" r="1.35" fill="#c8c8c8" stroke="#b0b0b0" stroke-width="0.35"/>
<circle cx="326.3" cy="503.4" r="1.35" fill="#c8c8c8" stroke="#b0b0b0" stroke-width="0.35"/>
<circle cx="325.8" cy="505.6" r="1.35" fill="#c8c8c8" stroke="#b0b0b0" stroke-width="0.35"/>
<circle cx="318.2" cy="506.9" r="1.35" fill="#c8c8c8" stroke="#b0b0b0" stroke-width="0.35"/>
<circle cx="318.9" cy="509.1" r="1.35" fill="#c8c8c8" stroke="#b0b0b0" stroke-width="0.35"/>
<circle cx="333.8" cy="509.1" r="1.35" fill="#c8c8c8" stroke="#b0b0b0" stroke-width="0.35"/>
<circle cx="302.9" cy="512.4" r="1.35" fill="#c8c8c8" stroke="#b0b0b0" stroke-width="0.35"/>
<circle cx="291.7" cy="515.5" r="1.35" fill="#c8c8c8" stroke="#b0b0b0" stroke-width="0.35"/>
<circle cx="304.7" cy="516.7" r="1.35" fill="#c8c8c8" stroke="#b0b0b0" stroke-width="0.35"/>
<circle cx="288.7" cy="517.8" r="1.35" fill="#c8c8c8" stroke="#b0b0b0" stroke-width="0.35"/>
<circle cx="289.4" cy="520.7" r="1.35" fill="#c8c8c8" stroke="#b0b0b0" stroke-width="0.35"/>
<circle cx="320.3" cy="518.1" r="1.35" fill="#c8c8c8" stroke="#b0b0b0" stroke-width="0.35"/>
<circle cx="322.0" cy="519.4" r="1.35" fill="#c8c8c8" stroke="#b0b0b0" stroke-width="0.35"/>
<circle cx="339.3" cy="516.4" r="1.35" fill="#c8c8c8" stroke="#b0b0b0" stroke-width="0.35"/>
<circle cx="301.2" cy="525.9" r="1.35" fill="#c8c8c8" stroke="#b0b0b0" stroke-width="0.35"/>
<circle cx="307.3" cy="529.0" r="1.35" fill="#c8c8c8" stroke="#b0b0b0" stroke-width="0.35"/>
<circle cx="318.2" cy="529.0" r="1.35" fill="#c8c8c8" stroke="#b0b0b0" stroke-width="0.35"/>
<circle cx="345.3" cy="503.9" r="1.35" fill="#c8c8c8" stroke="#b0b0b0" stroke-width="0.35"/>
<circle cx="340.6" cy="516.0" r="1.35" fill="#c8c8c8" stroke="#b0b0b0" stroke-width="0.35"/>
<line x1="289.10" y1="513.80" x2="390.80" y2="447.20" stroke="#2a2a2a" stroke-width="0.9"/>
<line x1="282.40" y1="441.40" x2="284.00" y2="441.40" stroke="#3a3a3a" stroke-width="0.75"/>
<text x="279.30" y="441.40" font-size="3.7" text-anchor="middle" dominant-baseline="central" fill="#2a2a2a" stroke="#2a2a2a" stroke-width="0.22">1.4</text>
<line x1="282.40" y1="464.90" x2="284.00" y2="464.90" stroke="#3a3a3a" stroke-width="0.75"/>
<text x="279.30" y="464.90" font-size="3.7" text-anchor="middle" dominant-baseline="central" fill="#2a2a2a" stroke="#2a2a2a" stroke-width="0.22">1.2</text>
<line x1="282.40" y1="488.30" x2="284.00" y2="488.30" stroke="#3a3a3a" stroke-width="0.75"/>
<text x="279.30" y="488.30" font-size="3.7" text-anchor="middle" dominant-baseline="central" fill="#2a2a2a" stroke="#2a2a2a" stroke-width="0.22">1.0</text>
<line x1="282.40" y1="511.80" x2="284.00" y2="511.80" stroke="#3a3a3a" stroke-width="0.75"/>
<text x="279.30" y="511.80" font-size="3.7" text-anchor="middle" dominant-baseline="central" fill="#2a2a2a" stroke="#2a2a2a" stroke-width="0.22">0.8</text>
<line x1="312.10" y1="533.20" x2="312.10" y2="534.80" stroke="#3a3a3a" stroke-width="0.75"/>
<text x="312.10" y="537.20" font-size="3.7" text-anchor="middle" dominant-baseline="central" fill="#2a2a2a" stroke="#2a2a2a" stroke-width="0.22">50</text>
<line x1="341.30" y1="533.20" x2="341.30" y2="534.80" stroke="#3a3a3a" stroke-width="0.75"/>
<text x="341.30" y="537.20" font-size="3.7" text-anchor="middle" dominant-baseline="central" fill="#2a2a2a" stroke="#2a2a2a" stroke-width="0.22">75</text>
<line x1="370.00" y1="533.20" x2="370.00" y2="534.80" stroke="#3a3a3a" stroke-width="0.75"/>
<text x="370.00" y="537.20" font-size="3.7" text-anchor="middle" dominant-baseline="central" fill="#2a2a2a" stroke="#2a2a2a" stroke-width="0.22">100</text>
<text x="272.20" y="481.10" font-size="4.35" text-anchor="middle" dominant-baseline="central" font-weight="bold" fill="#1a1a1a" stroke="#1a1a1a" stroke-width="0.2" transform="rotate(-90 272.20 481.10)">Biological response</text>
<text x="340.20" y="543.20" font-size="4.4" text-anchor="middle" dominant-baseline="central" font-weight="bold" fill="#1a1a1a" stroke="#1a1a1a" stroke-width="0.2">Climate variable</text>
</g>
</svg></body></html>
